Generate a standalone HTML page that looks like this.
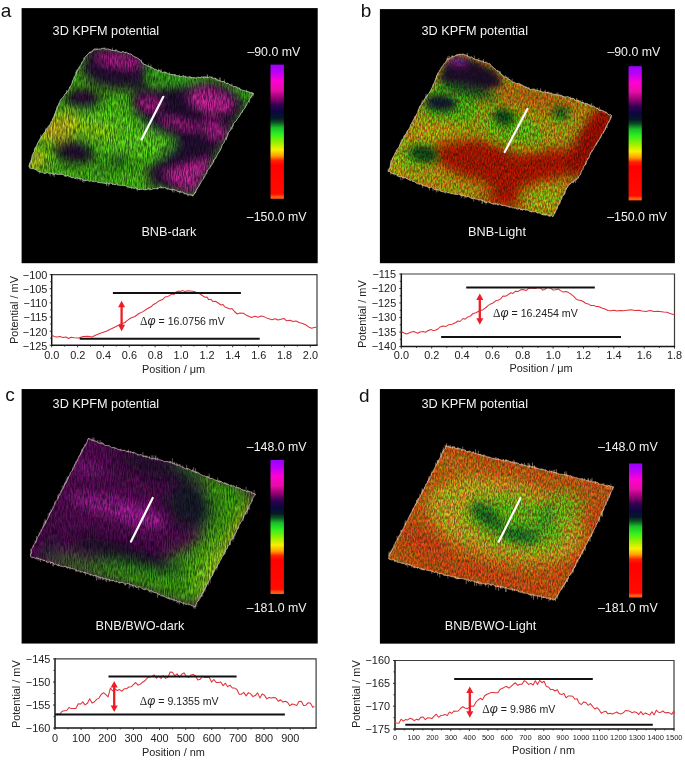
<!DOCTYPE html>
<html lang="en"><head><meta charset="utf-8"><title>KPFM potential figure</title>
<style>html,body{margin:0;padding:0;background:#fff}body{width:685px;height:760px;overflow:hidden}svg{display:block}text{font-family:"Liberation Sans", Arial, sans-serif}.lab{font-size:19px;fill:#111}.wt{font-size:12.7px;fill:#f2f2f2}.tk{font-size:10.9px;fill:#222}.tks{font-size:7.5px;fill:#222}.ax{font-size:10.9px;fill:#222}.dp{font-size:10.6px;fill:#222}.bl{stroke:#111;stroke-width:2.0;fill:none}.cv{stroke:#e0323a;stroke-width:1.05;fill:none;stroke-linejoin:round}.fr{fill:none;stroke:#3c3c3c;stroke-width:1.2}.fr2{fill:none;stroke:#161616;stroke-width:1.5}.tick{stroke:#222;stroke-width:0.9}.ar{stroke:#ee1c24;stroke-width:2.3;fill:none}.ah{fill:#ee1c24}</style></head><body>
<svg width="685" height="760" viewBox="0 0 685 760">
<defs>
<linearGradient id="cb" x1="0" y1="0" x2="0" y2="1">
<stop offset="0" stop-color="#9a00ff"/>
<stop offset="0.06" stop-color="#c000f4"/>
<stop offset="0.12" stop-color="#ff00d4"/>
<stop offset="0.19" stop-color="#e60ea6"/>
<stop offset="0.25" stop-color="#930072"/>
<stop offset="0.3" stop-color="#340052"/>
<stop offset="0.355" stop-color="#0a083c"/>
<stop offset="0.4" stop-color="#061828"/>
<stop offset="0.43" stop-color="#0a5020"/>
<stop offset="0.47" stop-color="#18c028"/>
<stop offset="0.52" stop-color="#30f020"/>
<stop offset="0.575" stop-color="#90f000"/>
<stop offset="0.635" stop-color="#f8f000"/>
<stop offset="0.68" stop-color="#ffa000"/>
<stop offset="0.715" stop-color="#ff2000"/>
<stop offset="0.75" stop-color="#ff0000"/>
<stop offset="0.965" stop-color="#ff0c00"/>
<stop offset="0.985" stop-color="#ff5a10"/>
<stop offset="1" stop-color="#ff5a10"/>
</linearGradient>
<clipPath id="cpa"><path d="M93.9 49.2 L95.7 49.1 L97.3 49.4 L98.6 49.1 L100.9 49.1 L102.1 48.3 L104.3 48.3 L105.8 49.3 L107.5 48.9 L109.2 49.3 L111 50.1 L112.6 50.2 L114.4 50.7 L116.4 50.1 L118.1 51.6 L119.6 52 L121.1 52.4 L123 51.4 L124.3 52.6 L126.3 52.2 L127.6 53.1 L129.8 54.1 L130.8 53.9 L132.8 55.6 L134.2 56.7 L136.4 57.4 L137.6 58.2 L139.3 59.3 L140.4 60.1 L141.5 61.9 L142.5 63.2 L144 64.4 L145.8 64.8 L146.9 65.6 L148.9 66.5 L149.8 66.4 L151.5 67.4 L153.3 68.3 L154.5 69.2 L155.9 69.2 L157.4 70.8 L158.9 70.1 L160.7 71 L162.5 72.7 L164.2 71.9 L165.8 72.4 L167.3 73.2 L168.5 73.8 L170.6 74.2 L172 74.6 L173.9 74.8 L175.2 74.9 L177.1 76 L178.3 75.6 L179.9 76.7 L182 76.6 L183.1 75.6 L184.7 76.5 L186.7 77.2 L187.9 77.2 L189.6 76.7 L191.1 77.6 L193.1 77.7 L194.8 77.8 L196.1 78.1 L197.9 77 L200 77.8 L201.3 76.8 L202.8 77.2 L204.9 77 L206.9 77.1 L208.6 77.3 L210.1 76.7 L212 77.8 L213.6 78.3 L214.8 78.1 L216.6 79.1 L218.1 80.2 L220.1 80.7 L221.7 81.5 L223 81.4 L224.5 81.7 L226 83.5 L227.9 83.1 L229 84.4 L230.8 85 L232.5 85.9 L233.7 86.5 L235.5 86.6 L237.2 87.8 L238.8 88.1 L240.3 89.1 L241.7 89.9 L243.1 90.4 L245.4 91.1 L246.8 91.2 L248.5 91.7 L250 92.5 L251.6 92.9 L253.6 93.6 L252.9 94.8 L251.4 96.3 L250.7 97.6 L249.7 99.3 L249.3 100.3 L248.3 102.1 L247.1 103.2 L246.6 105.6 L245.5 106.2 L244.9 108.4 L243.4 109.7 L242.6 111.1 L242.2 112.2 L241 113 L240.2 114.9 L239.4 116.3 L238.5 117.5 L237.2 118.8 L236.5 120.6 L235.2 121.8 L234.5 122.7 L233.6 123.5 L233 126.1 L231.7 127.6 L231.2 128.8 L230.6 129.4 L229.7 131.4 L228.5 132.2 L227.8 134.5 L227.5 135.2 L226.8 137.8 L225.9 138.2 L224.7 140.4 L224.3 141.9 L223.5 143.4 L222.5 144.1 L221.8 146 L221.5 147.4 L220.9 148.9 L220.1 150.4 L218.9 152.3 L218.1 153.7 L217.4 154.3 L216.6 156.4 L215.5 158.6 L215 159 L213.7 160 L213.4 162.3 L212.3 164.1 L211.5 165.3 L210.6 165.8 L210 167.7 L209.2 168.3 L207.7 170.1 L206.9 172.1 L206.7 173.7 L205.2 174.2 L205 176.2 L204.1 177.1 L203.3 179.2 L202.1 180.2 L201.2 181.8 L200.4 183.4 L199.9 184.3 L199.1 185.8 L197.8 187.7 L197.2 188.4 L196.2 190.1 L195.9 192.2 L194.9 193 L193.8 194.2 L193.1 195.8 L191.4 195 L189.4 194.9 L187.5 194.9 L186.2 193.8 L184.4 193.6 L182.8 192.2 L180.8 192.1 L179.3 191.7 L177.6 191.7 L176.2 190.5 L174.6 189.8 L173.1 189.9 L171.8 189.9 L170 189.3 L168.1 188.9 L166.4 188.7 L164.8 187.4 L163.2 187.9 L161.8 187.7 L160.1 186.9 L158.6 188.3 L156.8 188.7 L155.3 188.6 L153.3 188.7 L151.5 189.5 L149.7 189.2 L148.4 188.9 L146 189.7 L144.4 189.8 L142.7 189.1 L140.7 189.5 L138.5 189.5 L136.8 188.7 L135.5 188 L133.6 188.4 L131.5 187.4 L129.8 187.4 L128.6 187 L126.5 186.6 L125 185.3 L123.7 185.8 L122.1 185.2 L120.2 185.4 L118.2 185 L117.1 183.8 L115 184.7 L113.4 184.3 L112.4 184.2 L110.8 182.9 L109.1 183.8 L107.4 183.1 L105.9 183.4 L103.8 183.2 L102.7 183.1 L101 182.7 L98.9 182.6 L97.7 182.5 L96.1 181 L94.3 181.8 L93 181.4 L91 180.8 L89.2 181.3 L87.7 180.3 L86 180.7 L84.3 180.6 L82.7 180.1 L81.7 178.7 L80.1 178.8 L78.4 178.3 L76.4 178 L74.8 178.6 L73.6 177.6 L71.8 177.7 L69.9 176.7 L68.5 175.7 L67.1 175.6 L65.1 176.2 L63.4 174.8 L62.2 174.4 L60.1 174.3 L58.8 174.5 L56.9 174.2 L55.5 173.9 L54.2 174.5 L52.2 173.9 L50.8 173 L49.4 173.7 L47.3 172.6 L45.6 173.2 L44.3 173.5 L42.6 172.4 L41.3 172.3 L39.6 171.9 L37.6 171.1 L36.5 170.2 L35.2 169.3 L33.4 168.8 L31.6 168.6 L30.6 168.2 L28.9 166.8 L29.5 165.5 L29.6 163.4 L30.6 162.9 L31 160.5 L31.8 159.5 L32.1 157.3 L32.2 154.9 L33 154.3 L33.6 152.4 L34.3 151.5 L34.5 149.9 L35.1 147.5 L36.4 146.4 L37.3 144 L37.6 143.2 L38.9 141.1 L39.3 140 L40.2 138.8 L41.2 137 L42.3 135.3 L43 134.5 L43.8 133.2 L45.1 131.7 L45.9 129.4 L46.7 128.8 L47.7 128 L48.4 126.3 L49.7 125 L50.7 123.2 L51.4 121.9 L52.3 120.2 L52.6 118.7 L53.2 117.9 L54.3 115.7 L54.6 114 L55.1 113.4 L56 111.1 L56.3 110.1 L56.8 108.2 L57.6 106.6 L58.2 105.6 L59 103.9 L59.7 102.2 L59.9 101.3 L60.8 99.4 L61.9 98.3 L63.3 97.2 L64.3 95.3 L64.9 94.3 L66.4 92.7 L67.5 91 L68.7 90.3 L69.2 88.5 L69.7 87.2 L70.7 86.2 L71.6 84 L71.9 83.5 L72.6 81.1 L73.2 79.7 L73.9 78 L74.8 76.5 L75.5 74.8 L76.2 74.1 L76.6 71.6 L77.5 70.2 L78.6 68.6 L79.6 66.7 L80 65.9 L81.4 64.1 L81.6 63.2 L82.8 61.3 L83.9 59.5 L84.3 57.8 L85.3 56.9 L86.5 55.5 L88.2 54.1 L89.4 52.3 L91 52.2 L92.4 51.5Z"/></clipPath>
<clipPath id="cpb"><path d="M458.2 54.6 L459.7 54.3 L462.2 54.4 L463.7 54.5 L465.3 55 L467.4 55.2 L468.5 56.7 L470.3 57.2 L471.6 56.8 L472.8 58.2 L475 59.2 L476.6 59.5 L477.9 60.1 L479.9 60.8 L481.3 61 L483 61.1 L484.5 62.5 L486.5 62.2 L488.1 63.7 L489.9 63.7 L490.6 65.1 L491.8 66.1 L493.8 67.9 L494.9 68.9 L496 69.7 L497 70.9 L498.7 71.1 L500.4 72.8 L501 74.3 L502.4 75.1 L504.3 76.8 L505.4 77.3 L507 77.2 L508.1 79.2 L509.9 79.5 L511.1 80.8 L512.6 82.3 L514.3 81.9 L515.8 83.7 L516.7 83.6 L518.7 83.3 L520.3 84.3 L521.5 84.7 L523.1 85.6 L524.3 86.8 L526 87.1 L527.8 87.9 L528.7 88.2 L530.7 89.6 L532.1 89.2 L534 89 L535.4 89.9 L536.9 90.2 L538.8 90.8 L540.3 91.1 L541.6 91.4 L543 92.3 L544.8 91.8 L546.6 92.4 L547.8 92.5 L549.5 93 L551.7 93.4 L552.7 94 L554.5 94.3 L556.3 94.8 L557.7 94.7 L559.6 95 L561.2 95.3 L562.6 96.6 L564.5 96.8 L566.3 97 L567.5 96.5 L569.4 97.5 L571 98.5 L572 98.6 L573.9 98.6 L575.2 100.4 L577.3 99.9 L578.6 100.7 L580.3 101.6 L581.8 102.5 L583.4 102.5 L584.4 103.9 L585.7 103.5 L587.4 103.8 L589 104.7 L590.7 105.4 L591.7 106.4 L593.6 106 L595.2 107.5 L596.8 108.4 L598.3 108.6 L599.3 110.5 L601.5 110.2 L602.8 110.7 L604 111.6 L606.1 112.4 L607.4 113.2 L608.9 115.1 L610.8 114.7 L611.7 115.8 L610.9 116.4 L610.2 118.7 L609.8 120 L609.2 121.7 L608.2 122.4 L607.3 124.3 L606.7 125.8 L606 127.6 L605.5 128.2 L604.5 130.4 L603.9 132 L603.1 132.7 L601.8 134.1 L601.3 136 L600.6 137.4 L599.4 138.9 L598.8 140.4 L597.7 141.7 L597.2 142.6 L596.2 144.4 L595.3 145.2 L594.3 147.4 L593.8 148.4 L592.9 150 L592.1 151 L591.2 152.2 L590.1 153.6 L589.7 155.3 L589 157.9 L588 158.3 L587.4 159.6 L586.7 161.3 L586 162.5 L585.3 164.6 L584 166 L583.4 167.3 L582.9 169.5 L582 170.4 L581.1 171.9 L580.8 174 L579.6 175.6 L578.9 176.3 L578.4 178.1 L577.1 179 L575.5 179.6 L574.4 180.2 L573.4 182.3 L571.6 182.2 L570.6 183.8 L569.5 184.5 L567.9 186.3 L567.4 187.4 L566.3 188.6 L566 189.5 L564.9 191.9 L564.2 194 L563.9 194.9 L563.1 195.3 L562 197.1 L561.9 198.7 L560.8 200.1 L560.2 201.9 L559.6 204 L558.9 204.6 L557.8 205.6 L557.4 207.9 L556.4 209.6 L555.8 210.5 L555.4 211.6 L554.2 214.1 L553.4 215.8 L552.8 216.8 L551.4 215.6 L550.1 216 L548.1 215.2 L546.8 214.9 L544.8 214.9 L543.4 214.7 L541.7 214.6 L540.3 213.3 L538.2 212.7 L536.6 212.5 L535.1 211.6 L533.9 212 L532.2 211.3 L530.1 211.8 L528.6 210.6 L527.2 210 L525.5 210.1 L524.1 209.2 L522.6 210 L520.5 209.4 L519.3 208.6 L517.7 209.2 L516 208.1 L514 208 L512.6 207.8 L511.3 207.1 L509.2 207.1 L507.7 206.4 L506 206 L504.4 205.6 L503.2 205.6 L501.1 205.2 L499.6 204.1 L498.2 204.8 L496.5 204 L495 203.6 L493.6 204.2 L491.6 203.5 L490.3 202.9 L488.3 201.7 L486.8 202.5 L485.2 202.5 L483.3 200.9 L482 200.3 L480.5 200 L478.6 199.7 L477.3 199.2 L475.6 199 L473.7 198.3 L472.4 198.6 L470.7 198 L468.7 196.8 L467.1 196.6 L465.8 197.3 L464.4 195.6 L462.2 195.5 L461.1 195.5 L458.8 194.1 L457.3 194.6 L455.8 194.3 L454.1 194.2 L453 193.6 L451.3 193.6 L449.7 193 L447.7 192.7 L446.4 191.9 L444.6 192.3 L443.2 191.8 L441 191.4 L439.7 190.4 L438.3 189.9 L436.9 189.9 L435.1 189.8 L433.4 188.6 L431.6 187.2 L430.3 187.4 L428.2 187.8 L427.1 186.2 L425.3 186 L423.4 185.7 L422.1 185.2 L420.6 184.1 L418.7 183.8 L417.2 183.9 L416.1 182.8 L414.5 181.7 L413 181.2 L411.5 180 L410.2 180.6 L408.2 179.3 L407.1 178.9 L405.8 177.9 L403.8 177.7 L402.8 177.5 L401.2 176.6 L399.6 176.9 L397.6 175.9 L396 174.5 L394.4 173.8 L392.9 173.9 L391 172.9 L389.6 171.3 L388.3 171.3 L388.6 170.3 L389.5 167.8 L390.1 167.3 L390.3 165.2 L390.9 163 L391.3 161.3 L392.3 159.6 L392.6 158 L393.6 156.2 L394.5 154.8 L395.1 152.9 L396 151.9 L396.3 150.1 L397.3 149.6 L397.9 148.2 L399.2 146.7 L400.1 144.4 L400.9 143.3 L401.4 141.8 L402 140.8 L402.8 138.8 L404.1 138 L404.4 135.7 L405.7 134.1 L406.4 133.3 L407.3 130.7 L408.3 129.8 L409.1 128.7 L410.2 126.8 L410.5 124.7 L411.3 124.2 L412.6 121.8 L412.9 120.8 L413.9 119.1 L414.7 117.7 L415 117.3 L416.1 115.2 L416.6 114.3 L417.8 112.4 L418.1 110.2 L418.8 109 L419.6 106.8 L420.3 105.6 L421 104.9 L422.2 102.8 L423 102 L424 100.5 L425.2 98 L425.5 97.7 L426.6 96.9 L427.4 94.9 L428.8 93.7 L429.9 91.8 L430.6 90.5 L431.5 88.6 L431.9 87.8 L432.8 86.6 L433.4 84.1 L434.2 82.7 L434.8 81.2 L435.5 79 L436.2 78 L436.8 75.7 L437.3 74.7 L438 72.9 L439.2 71.4 L439.8 70.1 L440.8 69 L441.5 67 L442.9 66 L443.7 64.2 L444.7 62.9 L445.4 62.4 L446.7 60.6 L447.4 58.6 L448.8 59.1 L450.2 58.2 L452 56.3 L453.8 56.4 L454.8 56.1 L456.2 55.2Z"/></clipPath>
<clipPath id="cpc"><path d="M88.2 438.6 L89.8 438.7 L91.3 440 L93.2 440.1 L94.9 440.9 L96.1 441.4 L97.5 442.1 L99.1 443.3 L100.9 443 L102.4 443 L103.8 444.5 L105.4 445.5 L106.9 445.5 L108.3 445.6 L109.8 445.9 L111.6 447.8 L113.4 447.4 L115 448.1 L116.2 448.2 L117.9 449.3 L119.9 449.9 L121.8 450.2 L122.9 450.5 L124.9 450.2 L126.3 451.7 L128 451.5 L129.6 451.8 L131.6 452.2 L133.3 452.7 L134.4 452.6 L136.1 453.6 L137.6 454.8 L139.5 454.9 L141 454.6 L142.5 455.8 L143.8 456.3 L145.1 456.3 L146.7 456.5 L148.3 457.2 L150.2 458.1 L151.8 458.9 L153.4 458.3 L154.4 458.4 L156.3 459.1 L157.7 458.8 L159.7 459.9 L160.9 460.1 L162.3 460.5 L164.4 461.6 L165.6 461.5 L167.1 461.5 L169 462.1 L170.7 461.9 L171.8 462.8 L173.6 463.8 L174.9 463.6 L176.2 464.9 L178.3 465 L179.5 465.2 L181.3 466.6 L182.5 467.3 L183.8 467.8 L185.4 468.7 L187.1 468.8 L188.6 468.8 L190.4 469.9 L191.5 470.7 L193.3 470.9 L194.6 471.4 L196.3 472.4 L197.6 472.3 L199.1 473.2 L200.7 474.4 L201.8 475 L203.4 475.9 L204.7 475.8 L206.1 476.5 L208.1 476.9 L209.3 478.1 L211 478.5 L212.7 478.4 L214 479.7 L215.6 480.1 L217.3 480.7 L218.4 481.6 L219.9 481.2 L221.7 481.8 L223.2 483.1 L224.8 483 L226.4 484.2 L228 484 L229.6 485.3 L230.7 485.2 L232.2 485.9 L233.9 485.8 L235.7 487.3 L237.4 487.4 L238.4 487.8 L240.2 488.2 L241.6 489.5 L243.5 490.3 L245 490.2 L246.3 491.5 L247.5 491 L249.3 491.4 L250.8 492 L252.3 492.9 L254 493.7 L255.6 494 L254.7 495.6 L254.1 496.6 L253 497.5 L252.4 499.6 L251.6 501.6 L251.2 502.5 L250.6 503.9 L249.4 505.1 L248.8 506.5 L248 508.3 L247.6 509.8 L246.9 511.3 L246.1 511.8 L245.5 514.2 L244.2 514.8 L243.9 517.1 L243.3 517.7 L242.4 519.9 L241.7 521.6 L240.5 522.4 L240.2 523.7 L239.2 525.1 L238.7 526.2 L238.1 528.7 L237.1 528.8 L236.2 531.3 L235.5 533.1 L235.2 533.9 L233.9 536.1 L233.7 537.1 L232.9 538.8 L231.8 539.5 L231 540.2 L230.1 542.3 L229.8 544.7 L228.6 545.5 L227.9 546 L227.1 547.7 L226.3 549.7 L225.5 550.7 L224.6 552.9 L224.2 554 L223.5 555.2 L222.8 556.1 L221.7 557.5 L221.3 559.3 L220.2 560.3 L219.2 562.6 L218.4 563.8 L217.8 565 L216.8 566.5 L216.6 567.5 L215.4 568.6 L214.6 571 L214 572.1 L213.3 572.6 L212.7 574.9 L211.3 577.2 L210.7 577.9 L210.3 578.6 L209.3 580.4 L208.5 581.7 L207.9 583.4 L206.7 585 L205.8 586.9 L205.1 588.5 L204.3 589.8 L203.8 591.2 L203.2 592.4 L201.9 594 L201.5 595.4 L200.6 596.6 L199.6 597.9 L198.8 600.2 L198.4 600.9 L197 601.8 L196.4 603.7 L195.6 604.7 L195.3 606.8 L193.5 606.1 L192.1 605.8 L190.3 604.8 L188.7 604.7 L187.3 604.1 L185.5 604.4 L184.3 603 L182.6 603.3 L181.1 602.2 L179.7 601.9 L177.8 602 L176.4 600.7 L175.3 600.7 L173.2 599.6 L172 599.2 L170.8 599.2 L168.9 598.2 L167.7 598.4 L165.8 597.4 L164.7 596.8 L162.8 595.7 L161.3 596 L159.7 594.5 L158.6 594.7 L157 593.2 L155.2 592.7 L153.7 592.4 L152.7 591.4 L151.2 590.8 L149.5 591.2 L148.1 590 L146.5 589.2 L144.6 589.2 L142.6 589.2 L141.5 587.9 L140 586.8 L138.1 587.1 L136.2 587.5 L134.9 585.7 L133.5 585.9 L131.9 584.9 L130.1 584.8 L128.6 583.5 L126.9 583.7 L124.8 584.5 L123.8 583.1 L122.1 582.4 L120.4 582.7 L118.8 583 L117.2 581.3 L115.3 581.8 L113.6 580.6 L111.9 580.6 L110.3 580.6 L108.6 579.4 L107.5 579.7 L105.5 578.6 L104.1 579 L102.8 577.7 L100.7 578 L99.3 577.2 L97.7 576.9 L96.1 575.7 L94.7 575.5 L93.2 575.6 L91.6 574.6 L90.1 575 L88.6 573.9 L87.1 573.3 L85 572.6 L83.5 572.5 L82.5 571.8 L80.5 572.1 L79.3 570.8 L77.3 571.1 L76.1 570.3 L74.2 569 L73.1 568.9 L71.2 568.5 L69.9 567.9 L68.3 567.4 L66.6 567.3 L65 566.1 L63.9 566.8 L62.3 566.4 L60.5 566.1 L59 565.1 L57.3 565.4 L55.9 564.2 L54.1 564.2 L52.6 562.7 L50.7 562.4 L49.4 561.8 L47.9 562.5 L46 561.6 L45 560.5 L43.3 560.5 L41.6 559.5 L39.7 559.2 L38.1 558.3 L36.7 558 L35.3 558.6 L33.8 557.3 L31.9 557.7 L30.8 556.9 L30.4 554.5 L31.3 553.2 L31.1 551 L31.2 549.3 L32.1 548.4 L32.9 547 L33.8 544.5 L34.2 544.2 L35.3 543.2 L36.3 541.1 L36.7 539.5 L37.3 537.7 L38 536.6 L38.8 535.1 L39.5 534.3 L40.2 532.6 L41.1 531.1 L42 529.2 L42.3 528.8 L43 526.8 L44.4 524.8 L45.1 524 L45.7 521.9 L46 521.2 L47.2 519.9 L47.7 518.2 L48.7 516.7 L49.4 515 L49.6 513 L51.1 511.8 L51.7 510.5 L52.5 509.6 L52.8 507.9 L53.9 506.4 L54.1 505.3 L54.8 503.1 L55.8 501.6 L56.8 500.5 L57.2 499.6 L58.4 497.6 L58.5 496.6 L59.8 494.7 L60.1 493.4 L61.2 491.9 L61.6 489.9 L62.5 489.4 L63.6 487.5 L63.9 486.6 L64.5 483.8 L65.6 483.7 L66.5 481.4 L67.1 480.8 L67.7 478.1 L68.3 477.3 L69.1 475.9 L69.8 475 L70.4 472.6 L71.2 471.8 L72.2 471 L72.6 469.1 L73.8 467.6 L74.3 465.6 L74.8 464.9 L75.6 463.6 L76.7 461 L77.5 460.7 L77.9 458.9 L78.5 457.2 L79.6 455.5 L80.6 454.3 L80.8 452.5 L82.1 451.6 L82.3 449.9 L82.9 449 L83.8 447.3 L84.7 446.3 L85.8 444.5 L86.5 443.2 L87.2 441.4 L87.5 440.1Z"/></clipPath>
<clipPath id="cpd"><path d="M446.3 445.5 L448 446.7 L449.4 446.8 L451.1 447.5 L452.6 447 L454.5 447 L455.6 448.6 L457.5 448.3 L458.7 448.7 L460.4 448.8 L462.4 449.9 L464 449.7 L465.5 450.6 L466.6 451.6 L468.1 451.5 L469.9 450.9 L471.6 452.4 L473.4 452 L474.5 453.4 L476.5 453.4 L477.8 454.3 L480.1 454.6 L481.7 455.1 L483.2 455.9 L485 455.7 L486.5 456.5 L488.2 457.2 L490.2 457.4 L491.9 458.3 L493.2 458.2 L495.3 459.1 L496.9 459 L498.3 459.2 L499.7 459.6 L501.9 460.2 L503.5 459.9 L504.7 460.9 L506.7 460.5 L508.2 460.7 L510.1 461.7 L511.6 462.4 L512.8 462.2 L514.5 462.1 L516.4 463.2 L517.8 463 L519.4 464.3 L521.1 464.7 L522.6 464.8 L524.3 465.2 L525.9 465.2 L527 466.5 L528.7 466 L530.2 465.9 L531.7 467.1 L533.9 466.6 L535.1 467.7 L536.6 468.1 L538 468.5 L539.6 469.1 L541.1 469 L543.2 469.5 L544.8 470.2 L545.8 470.3 L547.3 471 L549 472.1 L550.5 471.4 L552.5 471.7 L553.8 472.8 L555 472.3 L556.7 472.8 L558.5 473.8 L560.2 474.3 L561.7 474.1 L563.3 474.7 L565 474.5 L566.3 475 L568 475.6 L569.6 475.9 L571.1 475.7 L572.4 477.2 L573.9 477.1 L575.4 477.7 L577.4 477.9 L578.6 478.6 L580.4 479 L582 478.7 L583.2 479.8 L585.3 479.7 L586.4 480.5 L588.2 480.7 L590.1 481.4 L591.1 480.9 L592.6 482 L594.3 481.8 L596.2 482.4 L597.7 482.4 L599 484 L600.9 484.4 L602.8 484 L603.9 485.1 L605.3 485.4 L607.4 486.1 L609.1 485.5 L610.6 486.7 L612.1 486.4 L613.4 487.3 L612.5 487.6 L612.2 489.9 L611.6 490.7 L610.8 492.5 L610 494.3 L609.8 495.4 L608.9 497.9 L608.2 498.3 L607.7 501 L606.6 501.8 L606 503.2 L605.2 505 L605.2 505.5 L604.1 507.2 L603.9 508.6 L603.2 510.6 L602 511.3 L601.8 513.2 L601.3 515 L600 516.5 L599.4 517.4 L599.1 519 L598.5 520.6 L597.9 521.7 L597.2 523 L596 525.4 L596 526.6 L595 527.6 L594.2 529.3 L593.3 530.6 L592.5 531.9 L592.3 533.5 L591.1 536 L590.3 536.1 L589.5 538.6 L588.7 539.6 L588 540.6 L587.4 542.4 L586.8 544.2 L585.7 545.1 L584.9 547.2 L584.9 548 L583.6 550 L582.8 551.2 L582.3 552.4 L581.3 553.9 L580.6 555 L580.2 556.9 L579.4 557.7 L578.3 559.5 L577.5 560.9 L576.7 562 L576.3 563 L575.7 565.4 L575.1 566.1 L574.1 567.9 L573.1 569.6 L572.6 571 L571.4 572.6 L570.7 574.1 L570 574.9 L568.5 576.5 L568.3 578.9 L567.3 579.5 L565.9 581.2 L565.5 582.6 L564.5 584.6 L563.8 585 L563 586.7 L562 587.6 L560.8 590.2 L560.2 590.5 L559.4 592.6 L558.3 593.8 L557.9 595.6 L556.7 596.6 L555.6 598.9 L555.2 599.6 L553.5 599.7 L551.7 599 L549.7 599.4 L548.4 598.1 L546.6 598.3 L545.1 597.3 L543.5 597.5 L541.8 597.3 L540.3 596.1 L538.2 596.2 L536.6 595.8 L535.6 595.8 L534 595.7 L532.2 594.7 L530.2 595 L528.5 594.1 L527.2 593.3 L525.5 593.1 L524.1 593.1 L522.4 591.9 L520.4 592.3 L518.7 591.5 L517.4 590.7 L515.5 590 L514.1 590.2 L512.4 589.5 L511.3 589.1 L509.3 589.1 L507.7 588.8 L506.1 587.6 L504.5 588.1 L503 587 L501.5 587.1 L499.8 587.1 L498 586.3 L496.5 586.9 L494.7 585.9 L493.2 584.5 L491.5 585.1 L489.8 584.4 L488.5 583.6 L487 584.1 L485.3 584.4 L483.8 583.7 L482.1 583.8 L480.1 583.1 L478.9 583.3 L477.3 582.4 L475.4 582.2 L474.1 581.5 L472.2 580.7 L470.3 581.2 L468.7 579.9 L467.3 580.1 L465.4 579.3 L464 579.2 L462.3 578.5 L461 578.4 L459.1 578.5 L457.6 578.4 L456.1 578.3 L454.7 577.2 L453 576.9 L451.6 576.7 L450 576.1 L448.4 575.4 L447 575.6 L445.5 575.3 L443.7 575.3 L442.6 573.9 L440.7 573.5 L438.8 573.6 L437.5 572.2 L435.7 572.2 L434.5 572.5 L433 571.7 L431.3 571 L429.9 570.8 L428.3 570.5 L426.7 570.2 L425.3 569 L423.2 569.8 L422.1 569.2 L420.1 568.9 L418.8 567.6 L416.9 567.6 L415.3 567.3 L414.2 567.3 L412.7 566.3 L410.9 565.2 L409.4 564.7 L407.3 564.1 L405.7 564.4 L404.7 563.9 L402.8 563.2 L401.4 563.2 L399.3 562.2 L398.2 562.6 L396.5 561.2 L394.6 560.3 L393.1 559.8 L391.3 559.9 L389.9 559 L388.6 558.4 L389 556.5 L388.9 555.6 L389.8 553.3 L390.4 552.3 L391.5 552.1 L392 550 L392.9 548.6 L393.2 547.3 L394.6 546.2 L394.8 544.2 L395.6 541.9 L396.6 540.8 L397.4 540 L397.8 538.7 L398.8 537.4 L399.1 535.6 L400.2 534.8 L401.2 532.7 L401.3 530.6 L402.6 530 L403.2 528.5 L404.1 527.3 L404.8 525.8 L405.1 524.2 L405.8 523.3 L406.9 521 L407.9 519.6 L408.3 518.3 L409.3 516.5 L410 515.5 L410.5 514.6 L411.7 512.4 L412.3 510.5 L412.8 509.6 L413.5 508.4 L414.4 507.1 L414.7 506 L415.6 504.1 L416.6 503.6 L417.1 501.8 L418 500.3 L418.5 498.4 L419.8 497.3 L420.3 495.7 L420.8 495 L422 492.7 L422.2 490.6 L423.2 490.1 L424 489.3 L424.8 486.9 L425.6 485.6 L425.9 484 L427.2 483.6 L427.4 481.1 L428.6 480.6 L429.4 478.5 L430.2 477.7 L430.9 476.1 L431.5 473.4 L432.4 472.5 L433 472 L433.8 470 L434.5 468.2 L434.8 467.6 L436.1 465.5 L436.5 464 L437.4 463.5 L438 461.3 L438.9 459.8 L439.4 459.1 L440.6 456.9 L441.2 455.8 L441.5 455 L442.3 452.6 L443 450.9 L444.4 449.8 L444.9 449.4 L445.7 447.2Z"/></clipPath>
<filter id="bl3_8" x="-30%" y="-30%" width="160%" height="160%"><feGaussianBlur stdDeviation="3.8"/></filter>
<filter id="bl4" x="-30%" y="-30%" width="160%" height="160%"><feGaussianBlur stdDeviation="4"/></filter>
<filter id="bl5_5" x="-30%" y="-30%" width="160%" height="160%"><feGaussianBlur stdDeviation="5.5"/></filter>
<filter id="bl6" x="-30%" y="-30%" width="160%" height="160%"><feGaussianBlur stdDeviation="6"/></filter>
<filter id="bl7" x="-30%" y="-30%" width="160%" height="160%"><feGaussianBlur stdDeviation="7"/></filter>
<filter id="texA" x="0" y="0" width="1" height="1" filterUnits="objectBoundingBox" color-interpolation-filters="sRGB"><feTurbulence type="fractalNoise" baseFrequency="0.95 0.17" numOctaves="2" seed="4" result="n"/><feColorMatrix in="n" type="matrix" values="2.4 0 0 0 -0.7  2.0 0.4 0 0 -0.7  2.0 0 0.4 0 -0.7  0 0 0 0 1" result="n2"/><feComposite in="SourceGraphic" in2="n2" operator="arithmetic" k1="0.8" k2="0.58" k3="0" k4="0"/></filter>
<filter id="texB" x="0" y="0" width="1" height="1" filterUnits="objectBoundingBox" color-interpolation-filters="sRGB"><feTurbulence type="fractalNoise" baseFrequency="0.7 0.3" numOctaves="2" seed="9" result="n"/><feColorMatrix in="n" type="matrix" values="2.2 0 0 0 -0.6  0 3.0 0 0 -1.0  0 0 2 0 -0.5  0 0 0 0 1" result="n2"/><feComposite in="SourceGraphic" in2="n2" operator="arithmetic" k1="0.7" k2="0.6" k3="0" k4="0"/></filter>
</defs>
<rect width="685" height="760" fill="#fff"/>
<rect x="21.6" y="8.1" width="296.1" height="255.1" fill="#000"/>
<text class="lab" x="0.8" y="16.8">a</text>
<rect x="379.9" y="9.1" width="295.0" height="254.1" fill="#000"/>
<text class="lab" x="360.7" y="17.3">b</text>
<rect x="21.6" y="389.05" width="296.1" height="254.5" fill="#000"/>
<text class="lab" x="5.3" y="401.4">c</text>
<rect x="379.9" y="389.05" width="295.0" height="254.6" fill="#000"/>
<text class="lab" x="359.0" y="401.9">d</text>
<g filter="url(#texA)"><g clip-path="url(#cpa)">
<rect x="25.8" y="45.4" width="230.8" height="153.4" fill="#3c9812"/>
<g filter="url(#bl5_5)">
<ellipse cx="120" cy="132" rx="60" ry="20" transform="rotate(12 120 132)" fill="#48ac16"/>
<ellipse cx="58" cy="128" rx="22" ry="13" transform="rotate(-20 58 128)" fill="#9ca012"/>
<ellipse cx="50" cy="128" rx="9" ry="7" transform="rotate(-20 50 128)" fill="#a88c14"/>
<ellipse cx="36" cy="160" rx="12" ry="9" transform="rotate(-40 36 160)" fill="#a4a414"/>
<ellipse cx="95" cy="130" rx="22" ry="7" transform="rotate(10 95 130)" fill="#80a010" opacity="0.7"/>
<path d="M88 44 L142 52 L154 68 L146 88 L114 90 L94 84 L80 72Z" fill="#1e0829"/>
<ellipse cx="83" cy="100" rx="19" ry="11" transform="rotate(5 83 100)" fill="#140620"/>
<ellipse cx="75" cy="151" rx="22" ry="13" transform="rotate(8 75 151)" fill="#140822"/>
<path d="M132 92 L165 84 L190 80 L215 82 L243 92 L250 98 L236 124 L218 154 L194 196 L150 186 L146 170 L160 156 L176 142 L150 130 L132 114Z" fill="#1c0829"/>
<ellipse cx="120" cy="160" rx="12" ry="7" transform="rotate(0 120 160)" fill="#103818" opacity="0.85"/>
<ellipse cx="104" cy="172" rx="10" ry="5" transform="rotate(0 104 172)" fill="#184818" opacity="0.7"/>
</g>
<g filter="url(#bl4)">
<ellipse cx="118" cy="61" rx="24" ry="8" transform="rotate(10 118 61)" fill="#8c1670"/>
<ellipse cx="104" cy="59" rx="10" ry="6" transform="rotate(0 104 59)" fill="#801668"/>
<ellipse cx="211" cy="101" rx="24" ry="13" transform="rotate(12 211 101)" fill="#981a78"/>
<ellipse cx="150" cy="104" rx="13" ry="8" transform="rotate(10 150 104)" fill="#8c1870"/>
<ellipse cx="180" cy="124" rx="22" ry="6" transform="rotate(14 180 124)" fill="#86166c"/>
<ellipse cx="214" cy="130" rx="14" ry="10" transform="rotate(30 214 130)" fill="#88166e"/>
<path d="M160 171 L186 163 L212 156 L204 174 L193 193 L176 186Z" fill="#981a78"/>
<ellipse cx="84" cy="97" rx="6" ry="3" transform="rotate(0 84 97)" fill="#5c1060" opacity="0.8"/>
<ellipse cx="75" cy="149" rx="5" ry="3" transform="rotate(0 75 149)" fill="#500c58" opacity="0.8"/>
<path d="M146 64 L172 72 L193 76 L204 76 L200 82 L186 86 L166 88 L146 84Z" fill="#2c8814" opacity="0.95"/>
<path d="M232 84 L256 92 L247 104 L238 96Z" fill="#2c8814" opacity="0.9"/>
</g>
</g></g>
<path d="M93.9 49.2 L95.7 49.1 L97.3 49.4 L98.6 49.1 L100.9 49.1 L102.1 48.3 L104.3 48.3 L105.8 49.3 L107.5 48.9 L109.2 49.3 L111 50.1 L112.6 50.2 L114.4 50.7 L116.4 50.1 L118.1 51.6 L119.6 52 L121.1 52.4 L123 51.4 L124.3 52.6 L126.3 52.2 L127.6 53.1 L129.8 54.1 L130.8 53.9 L132.8 55.6 L134.2 56.7 L136.4 57.4 L137.6 58.2 L139.3 59.3 L140.4 60.1 L141.5 61.9 L142.5 63.2 L144 64.4 L145.8 64.8 L146.9 65.6 L148.9 66.5 L149.8 66.4 L151.5 67.4 L153.3 68.3 L154.5 69.2 L155.9 69.2 L157.4 70.8 L158.9 70.1 L160.7 71 L162.5 72.7 L164.2 71.9 L165.8 72.4 L167.3 73.2 L168.5 73.8 L170.6 74.2 L172 74.6 L173.9 74.8 L175.2 74.9 L177.1 76 L178.3 75.6 L179.9 76.7 L182 76.6 L183.1 75.6 L184.7 76.5 L186.7 77.2 L187.9 77.2 L189.6 76.7 L191.1 77.6 L193.1 77.7 L194.8 77.8 L196.1 78.1 L197.9 77 L200 77.8 L201.3 76.8 L202.8 77.2 L204.9 77 L206.9 77.1 L208.6 77.3 L210.1 76.7 L212 77.8 L213.6 78.3 L214.8 78.1 L216.6 79.1 L218.1 80.2 L220.1 80.7 L221.7 81.5 L223 81.4 L224.5 81.7 L226 83.5 L227.9 83.1 L229 84.4 L230.8 85 L232.5 85.9 L233.7 86.5 L235.5 86.6 L237.2 87.8 L238.8 88.1 L240.3 89.1 L241.7 89.9 L243.1 90.4 L245.4 91.1 L246.8 91.2 L248.5 91.7 L250 92.5 L251.6 92.9 L253.6 93.6 L252.9 94.8 L251.4 96.3 L250.7 97.6 L249.7 99.3 L249.3 100.3 L248.3 102.1 L247.1 103.2 L246.6 105.6 L245.5 106.2 L244.9 108.4 L243.4 109.7 L242.6 111.1 L242.2 112.2 L241 113 L240.2 114.9 L239.4 116.3 L238.5 117.5 L237.2 118.8 L236.5 120.6 L235.2 121.8 L234.5 122.7 L233.6 123.5 L233 126.1 L231.7 127.6 L231.2 128.8 L230.6 129.4 L229.7 131.4 L228.5 132.2 L227.8 134.5 L227.5 135.2 L226.8 137.8 L225.9 138.2 L224.7 140.4 L224.3 141.9 L223.5 143.4 L222.5 144.1 L221.8 146 L221.5 147.4 L220.9 148.9 L220.1 150.4 L218.9 152.3 L218.1 153.7 L217.4 154.3 L216.6 156.4 L215.5 158.6 L215 159 L213.7 160 L213.4 162.3 L212.3 164.1 L211.5 165.3 L210.6 165.8 L210 167.7 L209.2 168.3 L207.7 170.1 L206.9 172.1 L206.7 173.7 L205.2 174.2 L205 176.2 L204.1 177.1 L203.3 179.2 L202.1 180.2 L201.2 181.8 L200.4 183.4 L199.9 184.3 L199.1 185.8 L197.8 187.7 L197.2 188.4 L196.2 190.1 L195.9 192.2 L194.9 193 L193.8 194.2 L193.1 195.8 L191.4 195 L189.4 194.9 L187.5 194.9 L186.2 193.8 L184.4 193.6 L182.8 192.2 L180.8 192.1 L179.3 191.7 L177.6 191.7 L176.2 190.5 L174.6 189.8 L173.1 189.9 L171.8 189.9 L170 189.3 L168.1 188.9 L166.4 188.7 L164.8 187.4 L163.2 187.9 L161.8 187.7 L160.1 186.9 L158.6 188.3 L156.8 188.7 L155.3 188.6 L153.3 188.7 L151.5 189.5 L149.7 189.2 L148.4 188.9 L146 189.7 L144.4 189.8 L142.7 189.1 L140.7 189.5 L138.5 189.5 L136.8 188.7 L135.5 188 L133.6 188.4 L131.5 187.4 L129.8 187.4 L128.6 187 L126.5 186.6 L125 185.3 L123.7 185.8 L122.1 185.2 L120.2 185.4 L118.2 185 L117.1 183.8 L115 184.7 L113.4 184.3 L112.4 184.2 L110.8 182.9 L109.1 183.8 L107.4 183.1 L105.9 183.4 L103.8 183.2 L102.7 183.1 L101 182.7 L98.9 182.6 L97.7 182.5 L96.1 181 L94.3 181.8 L93 181.4 L91 180.8 L89.2 181.3 L87.7 180.3 L86 180.7 L84.3 180.6 L82.7 180.1 L81.7 178.7 L80.1 178.8 L78.4 178.3 L76.4 178 L74.8 178.6 L73.6 177.6 L71.8 177.7 L69.9 176.7 L68.5 175.7 L67.1 175.6 L65.1 176.2 L63.4 174.8 L62.2 174.4 L60.1 174.3 L58.8 174.5 L56.9 174.2 L55.5 173.9 L54.2 174.5 L52.2 173.9 L50.8 173 L49.4 173.7 L47.3 172.6 L45.6 173.2 L44.3 173.5 L42.6 172.4 L41.3 172.3 L39.6 171.9 L37.6 171.1 L36.5 170.2 L35.2 169.3 L33.4 168.8 L31.6 168.6 L30.6 168.2 L28.9 166.8 L29.5 165.5 L29.6 163.4 L30.6 162.9 L31 160.5 L31.8 159.5 L32.1 157.3 L32.2 154.9 L33 154.3 L33.6 152.4 L34.3 151.5 L34.5 149.9 L35.1 147.5 L36.4 146.4 L37.3 144 L37.6 143.2 L38.9 141.1 L39.3 140 L40.2 138.8 L41.2 137 L42.3 135.3 L43 134.5 L43.8 133.2 L45.1 131.7 L45.9 129.4 L46.7 128.8 L47.7 128 L48.4 126.3 L49.7 125 L50.7 123.2 L51.4 121.9 L52.3 120.2 L52.6 118.7 L53.2 117.9 L54.3 115.7 L54.6 114 L55.1 113.4 L56 111.1 L56.3 110.1 L56.8 108.2 L57.6 106.6 L58.2 105.6 L59 103.9 L59.7 102.2 L59.9 101.3 L60.8 99.4 L61.9 98.3 L63.3 97.2 L64.3 95.3 L64.9 94.3 L66.4 92.7 L67.5 91 L68.7 90.3 L69.2 88.5 L69.7 87.2 L70.7 86.2 L71.6 84 L71.9 83.5 L72.6 81.1 L73.2 79.7 L73.9 78 L74.8 76.5 L75.5 74.8 L76.2 74.1 L76.6 71.6 L77.5 70.2 L78.6 68.6 L79.6 66.7 L80 65.9 L81.4 64.1 L81.6 63.2 L82.8 61.3 L83.9 59.5 L84.3 57.8 L85.3 56.9 L86.5 55.5 L88.2 54.1 L89.4 52.3 L91 52.2 L92.4 51.5Z" fill="none" stroke="#d0d0d0" stroke-width="0.8" opacity="0.9"/>
<path d="M95 50.4v-1.9M97.1 50.1v-2.3M105 49.6v-2.3M112.4 51v-3.3M115.8 51.7v-2.4M141.5 63v-3.4M143.1 64.4v-2.2M148.6 67.2v-3.7M151 68.3v-3.8M158.6 71.8v-3.3M161.2 72.6v-3.7M165.3 73.8v-1.9M169.3 74.9v-3.1M174.5 76.1v-1.9M175.1 76.2v-2.1M179.5 76.9v-2.4M185.9 77.9v-2.4M190.1 78.5v-2.5M191.6 78.8v-1.9M194.2 78.9v-2M203.3 78.3v-2M205.1 78.1v-1.8M207.2 78v-3.9M207.6 78v-2.9M212 78.5v-2.4M215.4 79.7v-2M219.3 81.1v-3.7M220.4 81.5v-3.9M224.4 82.9v-3.5M231.9 86.2v-2.8M237 88.5v-2.3M239.3 89.5v-2.1M246.4 92.2v-2.6M251.6 94v-2.1M252.6 94.4v-2.1M253.2 93.3v3.1M251.8 95.6v2.5M249.4 99.3v3.7M242.5 110.2v2.3M232.4 125.3v3.7M231.2 127.2v2.9M228 133.3v2M226.4 136.6v3.8M226.2 137.1v2.9M214 159.7v2M210.7 165.1v2M204 176.2v1.9M197.4 187.5v2M195.5 190.6v2.1M194.7 191.9v2.7M192.8 194.7v2M191.2 194.3v1.8M188 193.3v2.9M184.1 192.1v2.3M180.5 191v1.8M179.5 190.7v2.9M174.2 189.2v3.4M172.6 188.7v3.6M171.9 188.5v1.9M167.2 187.5v2.2M161.7 186.4v2.2M160.4 186.6v1.8M157.4 187.2v2.4M149.9 188.5v2M139.7 188.3v1.8M137.5 187.9v3.2M136.4 187.7v2.2M131.5 186.8v2.4M128 185.7v2.9M117.3 183.6v2.4M112.6 183v1.9M109.6 182.7v2.3M108.4 182.5v3.8M106.7 182.3v3.8M106.6 182.3v3M83.9 179.1v3.6M82.4 178.9v3.3M80.4 178.3v2.3M80 178.3v2.1M77.1 177.5v2.8M72 176.2v2.1M68.7 175.4v2.2M66.9 174.9v2.1M65 174.5v2.2M54.3 172.9v4M53.1 172.8v3.2M50.7 172.6v1.8M50.1 172.5v3.8M45.1 172v1.8M39.3 170.8v2.8M30 166.4v3.1M29.2 166.7v-2.1M29.3 166.4v-1.8M29.9 164.5v-2.8M31.2 160.9v-2.1M31.6 159.7v-3M33.3 154.5v-2.1M34.4 151.4v-2M40.8 138.1v-3.5M45.8 131.1v-3.4M50.9 123.9v-2.5M54.4 116v-2.2M55.6 113.1v-2.3M57.1 109.3v-3.1M57.9 107.2v-2.2M58.9 104.7v-2.2M66.5 93.9v-3.8M69.8 88.5v-2.1M72.4 82.6v-1.9M74.2 78.4v-2.5M75.4 75.7v-3.8M76.3 73.6v-3.7M77.3 71.7v-2.9M79.1 68.6v-1.9M81.8 63.9v-1.9M84.1 59.9v-2.6M90.2 53.5v-2.2M92.2 51.8v-2" stroke="#b8c8a8" stroke-width="0.6" fill="none" opacity="0.8"/>
<line x1="163.3" y1="96.8" x2="141.6" y2="139.4" stroke="#fff" stroke-width="2.2" stroke-linecap="round"/>
<g filter="url(#texB)"><g clip-path="url(#cpb)">
<rect x="385" y="51.3" width="230" height="168.5" fill="#a08a10"/>
<g filter="url(#bl6)">
<ellipse cx="450" cy="104" rx="30" ry="27" transform="rotate(-30 450 104)" fill="#48a010"/>
<ellipse cx="512" cy="128" rx="32" ry="14" transform="rotate(15 512 128)" fill="#58a810"/>
<ellipse cx="562" cy="116" rx="14" ry="9" transform="rotate(15 562 116)" fill="#6ca810"/>
<ellipse cx="415" cy="156" rx="24" ry="12" transform="rotate(-15 415 156)" fill="#62a410"/>
<ellipse cx="440" cy="132" rx="26" ry="10" transform="rotate(0 440 132)" fill="#b09410"/>
<ellipse cx="396" cy="166" rx="8" ry="8" transform="rotate(0 396 166)" fill="#a8a010"/>
<ellipse cx="538" cy="100" rx="44" ry="11" transform="rotate(14 538 100)" fill="#a86010"/>
<ellipse cx="480" cy="160" rx="50" ry="20" transform="rotate(12 480 160)" fill="#9c1606"/>
<ellipse cx="540" cy="166" rx="50" ry="16" transform="rotate(-8 540 166)" fill="#9c1406"/>
<ellipse cx="592" cy="140" rx="16" ry="42" transform="rotate(28 592 140)" fill="#901006"/>
<ellipse cx="603" cy="118" rx="12" ry="8" transform="rotate(20 603 118)" fill="#901006"/>
<ellipse cx="498" cy="186" rx="42" ry="20" transform="rotate(15 498 186)" fill="#9c1806"/>
<ellipse cx="470" cy="188" rx="20" ry="6" transform="rotate(15 470 188)" fill="#a09010"/>
<ellipse cx="541" cy="199" rx="20" ry="9" transform="rotate(10 541 199)" fill="#94a410"/>
<ellipse cx="572" cy="200" rx="6" ry="14" transform="rotate(25 572 200)" fill="#901806"/>
</g>
<g filter="url(#bl3_8)">
<path d="M445 62 L458 55 L476 60 L498 72 L504 86 L480 92 L456 88 L438 80Z" fill="#1c0826"/>
<ellipse cx="458" cy="62" rx="10" ry="5" transform="rotate(10 458 62)" fill="#601472"/>
<ellipse cx="441" cy="103" rx="16" ry="8" transform="rotate(5 441 103)" fill="#0c122c"/>
<ellipse cx="424" cy="154" rx="15" ry="8" transform="rotate(10 424 154)" fill="#0c3c16"/>
<ellipse cx="504" cy="117" rx="11" ry="8" transform="rotate(20 504 117)" fill="#0c3c18"/>
<ellipse cx="561" cy="113" rx="9" ry="7" transform="rotate(10 561 113)" fill="#1c5c18"/>
<ellipse cx="470" cy="92" rx="30" ry="6" transform="rotate(14 470 92)" fill="#1c5018" opacity="0.8"/>
</g>
</g></g>
<path d="M458.2 54.6 L459.7 54.3 L462.2 54.4 L463.7 54.5 L465.3 55 L467.4 55.2 L468.5 56.7 L470.3 57.2 L471.6 56.8 L472.8 58.2 L475 59.2 L476.6 59.5 L477.9 60.1 L479.9 60.8 L481.3 61 L483 61.1 L484.5 62.5 L486.5 62.2 L488.1 63.7 L489.9 63.7 L490.6 65.1 L491.8 66.1 L493.8 67.9 L494.9 68.9 L496 69.7 L497 70.9 L498.7 71.1 L500.4 72.8 L501 74.3 L502.4 75.1 L504.3 76.8 L505.4 77.3 L507 77.2 L508.1 79.2 L509.9 79.5 L511.1 80.8 L512.6 82.3 L514.3 81.9 L515.8 83.7 L516.7 83.6 L518.7 83.3 L520.3 84.3 L521.5 84.7 L523.1 85.6 L524.3 86.8 L526 87.1 L527.8 87.9 L528.7 88.2 L530.7 89.6 L532.1 89.2 L534 89 L535.4 89.9 L536.9 90.2 L538.8 90.8 L540.3 91.1 L541.6 91.4 L543 92.3 L544.8 91.8 L546.6 92.4 L547.8 92.5 L549.5 93 L551.7 93.4 L552.7 94 L554.5 94.3 L556.3 94.8 L557.7 94.7 L559.6 95 L561.2 95.3 L562.6 96.6 L564.5 96.8 L566.3 97 L567.5 96.5 L569.4 97.5 L571 98.5 L572 98.6 L573.9 98.6 L575.2 100.4 L577.3 99.9 L578.6 100.7 L580.3 101.6 L581.8 102.5 L583.4 102.5 L584.4 103.9 L585.7 103.5 L587.4 103.8 L589 104.7 L590.7 105.4 L591.7 106.4 L593.6 106 L595.2 107.5 L596.8 108.4 L598.3 108.6 L599.3 110.5 L601.5 110.2 L602.8 110.7 L604 111.6 L606.1 112.4 L607.4 113.2 L608.9 115.1 L610.8 114.7 L611.7 115.8 L610.9 116.4 L610.2 118.7 L609.8 120 L609.2 121.7 L608.2 122.4 L607.3 124.3 L606.7 125.8 L606 127.6 L605.5 128.2 L604.5 130.4 L603.9 132 L603.1 132.7 L601.8 134.1 L601.3 136 L600.6 137.4 L599.4 138.9 L598.8 140.4 L597.7 141.7 L597.2 142.6 L596.2 144.4 L595.3 145.2 L594.3 147.4 L593.8 148.4 L592.9 150 L592.1 151 L591.2 152.2 L590.1 153.6 L589.7 155.3 L589 157.9 L588 158.3 L587.4 159.6 L586.7 161.3 L586 162.5 L585.3 164.6 L584 166 L583.4 167.3 L582.9 169.5 L582 170.4 L581.1 171.9 L580.8 174 L579.6 175.6 L578.9 176.3 L578.4 178.1 L577.1 179 L575.5 179.6 L574.4 180.2 L573.4 182.3 L571.6 182.2 L570.6 183.8 L569.5 184.5 L567.9 186.3 L567.4 187.4 L566.3 188.6 L566 189.5 L564.9 191.9 L564.2 194 L563.9 194.9 L563.1 195.3 L562 197.1 L561.9 198.7 L560.8 200.1 L560.2 201.9 L559.6 204 L558.9 204.6 L557.8 205.6 L557.4 207.9 L556.4 209.6 L555.8 210.5 L555.4 211.6 L554.2 214.1 L553.4 215.8 L552.8 216.8 L551.4 215.6 L550.1 216 L548.1 215.2 L546.8 214.9 L544.8 214.9 L543.4 214.7 L541.7 214.6 L540.3 213.3 L538.2 212.7 L536.6 212.5 L535.1 211.6 L533.9 212 L532.2 211.3 L530.1 211.8 L528.6 210.6 L527.2 210 L525.5 210.1 L524.1 209.2 L522.6 210 L520.5 209.4 L519.3 208.6 L517.7 209.2 L516 208.1 L514 208 L512.6 207.8 L511.3 207.1 L509.2 207.1 L507.7 206.4 L506 206 L504.4 205.6 L503.2 205.6 L501.1 205.2 L499.6 204.1 L498.2 204.8 L496.5 204 L495 203.6 L493.6 204.2 L491.6 203.5 L490.3 202.9 L488.3 201.7 L486.8 202.5 L485.2 202.5 L483.3 200.9 L482 200.3 L480.5 200 L478.6 199.7 L477.3 199.2 L475.6 199 L473.7 198.3 L472.4 198.6 L470.7 198 L468.7 196.8 L467.1 196.6 L465.8 197.3 L464.4 195.6 L462.2 195.5 L461.1 195.5 L458.8 194.1 L457.3 194.6 L455.8 194.3 L454.1 194.2 L453 193.6 L451.3 193.6 L449.7 193 L447.7 192.7 L446.4 191.9 L444.6 192.3 L443.2 191.8 L441 191.4 L439.7 190.4 L438.3 189.9 L436.9 189.9 L435.1 189.8 L433.4 188.6 L431.6 187.2 L430.3 187.4 L428.2 187.8 L427.1 186.2 L425.3 186 L423.4 185.7 L422.1 185.2 L420.6 184.1 L418.7 183.8 L417.2 183.9 L416.1 182.8 L414.5 181.7 L413 181.2 L411.5 180 L410.2 180.6 L408.2 179.3 L407.1 178.9 L405.8 177.9 L403.8 177.7 L402.8 177.5 L401.2 176.6 L399.6 176.9 L397.6 175.9 L396 174.5 L394.4 173.8 L392.9 173.9 L391 172.9 L389.6 171.3 L388.3 171.3 L388.6 170.3 L389.5 167.8 L390.1 167.3 L390.3 165.2 L390.9 163 L391.3 161.3 L392.3 159.6 L392.6 158 L393.6 156.2 L394.5 154.8 L395.1 152.9 L396 151.9 L396.3 150.1 L397.3 149.6 L397.9 148.2 L399.2 146.7 L400.1 144.4 L400.9 143.3 L401.4 141.8 L402 140.8 L402.8 138.8 L404.1 138 L404.4 135.7 L405.7 134.1 L406.4 133.3 L407.3 130.7 L408.3 129.8 L409.1 128.7 L410.2 126.8 L410.5 124.7 L411.3 124.2 L412.6 121.8 L412.9 120.8 L413.9 119.1 L414.7 117.7 L415 117.3 L416.1 115.2 L416.6 114.3 L417.8 112.4 L418.1 110.2 L418.8 109 L419.6 106.8 L420.3 105.6 L421 104.9 L422.2 102.8 L423 102 L424 100.5 L425.2 98 L425.5 97.7 L426.6 96.9 L427.4 94.9 L428.8 93.7 L429.9 91.8 L430.6 90.5 L431.5 88.6 L431.9 87.8 L432.8 86.6 L433.4 84.1 L434.2 82.7 L434.8 81.2 L435.5 79 L436.2 78 L436.8 75.7 L437.3 74.7 L438 72.9 L439.2 71.4 L439.8 70.1 L440.8 69 L441.5 67 L442.9 66 L443.7 64.2 L444.7 62.9 L445.4 62.4 L446.7 60.6 L447.4 58.6 L448.8 59.1 L450.2 58.2 L452 56.3 L453.8 56.4 L454.8 56.1 L456.2 55.2Z" fill="none" stroke="#e0c8b8" stroke-width="0.8" opacity="0.9"/>
<path d="M459.1 55.6v-1.8M462.9 55.4v-2.3M467.3 56.8v-3.9M474.3 59.8v-4.3M478.1 61.1v-2.3M478.8 61.4v-3.5M483.3 62.9v-1.9M483.6 63v-3.8M497.5 71.9v-1.8M499.2 73.3v-1.8M500.1 74.1v-2.9M505.3 77.8v-2.8M508.3 80.1v-3.2M512.2 82.5v-3.8M520.2 85.7v-2M523.8 87.2v-2.1M525.9 88v-1.9M528.7 89.2v-2.2M537.2 91.5v-3.3M540.6 92.2v-4M545.3 93.2v-3.5M547.4 93.6v-2.1M548.7 93.8v-2.4M551.1 94.3v-1.9M556.2 95.5v-2.6M557.8 95.9v-3.7M561.3 96.8v-1.9M562.5 97.1v-1.8M570.4 99.1v-2.5M572 99.5v-1.9M576.6 101v-3.2M578.4 101.8v-1.9M580 102.4v-2.4M582.2 103.3v-3.2M583.7 103.9v-1.9M585.4 104.5v-1.9M587.1 105.2v-1.8M591 106.8v-2.8M591.7 107.1v-4.2M597.1 109.4v-2.3M599.4 110.6v-3.8M600.4 111v-1.8M603.4 112.6v-1.9M605.8 113.7v-2.3M611.5 115.7v2.4M610.7 117.3v2.9M608.7 121v2.4M607.2 123.9v4.3M605.9 126.3v2M605.5 127.2v3.1M603.5 131v2.7M600.6 135.7v2.6M599.7 137.2v1.8M598 140v2.1M596.9 141.9v1.8M596.5 142.6v2M595.9 143.5v2.6M591.9 150.1v1.9M590.7 152.1v2.9M587.8 158v2M586.2 161.3v3.2M585.6 162.6v2.7M576.5 178.5v1.9M575.4 179.3v3.8M575 179.6v2.2M573.4 180.8v2.4M566.6 187.9v2M565.2 190.7v3.1M564.6 191.8v2.9M563.7 193.7v1.9M556.8 207.9v2.4M555.7 210.3v1.8M554.9 211.9v2.1M550 215.1v1.9M548.9 214.8v2.2M545.7 214v1.8M543.9 213.6v1.9M537.8 212v2M531.8 210.6v2.4M522.6 208.7v1.8M520.5 208.3v2M516.4 207.5v1.8M509.4 206.1v1.8M497.8 203.6v2M495.6 203.2v1.9M493.8 202.8v2M489 201.7v1.8M486 200.9v3.8M484.4 200.5v2.1M482.4 200v3.5M482 199.8v4.1M478.9 199v2.5M473.7 197.6v4M472.5 197.3v1.9M464.3 195.1v3.3M462.4 194.7v2.1M461.3 194.4v3.8M451.8 192.4v2M445.8 191.2v2.7M438.1 189.1v2.9M436.4 188.5v4M433 187.5v3.6M429.5 186.4v3.9M425.7 185.2v1.8M422.6 184.2v3.9M419.3 183v2.1M412.4 180.2v1.8M403.8 176.9v1.9M402.8 176.5v3M400.9 175.8v4.4M397.6 174.4v1.9M394.1 173v2.7M390.6 171.6v3.2M388.1 172.2v-3.4M390.7 164.6v-4.2M391.8 161.5v-2.2M392.3 159.9v-1.9M399.5 146.4v-1.8M400.3 144.9v-2.7M400.6 144.4v-1.8M401.1 143.5v-3.4M401.9 142v-3.2M402.4 141v-1.9M403.6 138.9v-3.1M404.4 137.6v-2M412 124.1v-1.9M414.4 119.4v-3.1M415 118.2v-1.9M420.1 107.9v-1.8M422 104v-1.9M422.2 103.6v-3.8M423.7 101.5v-1.8M425.7 98.5v-2.4M426 98.1v-4.2M427.2 96.3v-1.8M432.7 86.7v-1.9M436 79.3v-1.8M436.5 78.1v-3.1M437.7 75.5v-1.9M447.2 60.3v-2.7M448.1 59.7v-3.8M449.4 59.2v-3.4M452.1 58.1v-3M457 56.1v-1.8" stroke="#e0c0a0" stroke-width="0.6" fill="none" opacity="0.8"/>
<line x1="527.5" y1="108.8" x2="504.7" y2="152" stroke="#fff" stroke-width="2.2" stroke-linecap="round"/>
<g filter="url(#texA)"><g clip-path="url(#cpc)">
<rect x="27.5" y="435.7" width="231" height="174.3" fill="#440a44"/>
<g filter="url(#bl7)">
<path d="M176 464 L255 494 L195 607 L104 578 L62 566 L100 562 L150 568 L196 544 L216 512 L204 482Z" fill="#348a10"/>
<path d="M40 558 L70 556 L120 572 L195 607 L104 579Z" fill="#2a7410"/>
<ellipse cx="190" cy="506" rx="25" ry="21" transform="rotate(25 190 506)" fill="#121a20" opacity="0.9"/>
<ellipse cx="158" cy="468" rx="42" ry="10" transform="rotate(18 158 468)" fill="#1c0826"/>
<ellipse cx="128" cy="556" rx="58" ry="10" transform="rotate(16 128 556)" fill="#180820"/>
<ellipse cx="50" cy="545" rx="16" ry="8" transform="rotate(-50 50 545)" fill="#2a0830"/>
<ellipse cx="216" cy="572" rx="16" ry="34" transform="rotate(27 216 572)" fill="#6cac16" opacity="0.9"/>
<ellipse cx="231" cy="546" rx="6" ry="52" transform="rotate(27 231 546)" fill="#90a816" opacity="0.9"/>
<ellipse cx="208" cy="472" rx="40" ry="5" transform="rotate(20 208 472)" fill="#246414" opacity="0.8"/>
</g>
<g filter="url(#bl6)">
<ellipse cx="112" cy="507" rx="46" ry="10" transform="rotate(14 112 507)" fill="#741470"/>
<ellipse cx="138" cy="515" rx="30" ry="10" transform="rotate(18 138 515)" fill="#8a1882"/>
<ellipse cx="85" cy="468" rx="22" ry="9" transform="rotate(10 85 468)" fill="#681068" opacity="0.7"/>
</g>
</g></g>
<path d="M88.2 438.6 L89.8 438.7 L91.3 440 L93.2 440.1 L94.9 440.9 L96.1 441.4 L97.5 442.1 L99.1 443.3 L100.9 443 L102.4 443 L103.8 444.5 L105.4 445.5 L106.9 445.5 L108.3 445.6 L109.8 445.9 L111.6 447.8 L113.4 447.4 L115 448.1 L116.2 448.2 L117.9 449.3 L119.9 449.9 L121.8 450.2 L122.9 450.5 L124.9 450.2 L126.3 451.7 L128 451.5 L129.6 451.8 L131.6 452.2 L133.3 452.7 L134.4 452.6 L136.1 453.6 L137.6 454.8 L139.5 454.9 L141 454.6 L142.5 455.8 L143.8 456.3 L145.1 456.3 L146.7 456.5 L148.3 457.2 L150.2 458.1 L151.8 458.9 L153.4 458.3 L154.4 458.4 L156.3 459.1 L157.7 458.8 L159.7 459.9 L160.9 460.1 L162.3 460.5 L164.4 461.6 L165.6 461.5 L167.1 461.5 L169 462.1 L170.7 461.9 L171.8 462.8 L173.6 463.8 L174.9 463.6 L176.2 464.9 L178.3 465 L179.5 465.2 L181.3 466.6 L182.5 467.3 L183.8 467.8 L185.4 468.7 L187.1 468.8 L188.6 468.8 L190.4 469.9 L191.5 470.7 L193.3 470.9 L194.6 471.4 L196.3 472.4 L197.6 472.3 L199.1 473.2 L200.7 474.4 L201.8 475 L203.4 475.9 L204.7 475.8 L206.1 476.5 L208.1 476.9 L209.3 478.1 L211 478.5 L212.7 478.4 L214 479.7 L215.6 480.1 L217.3 480.7 L218.4 481.6 L219.9 481.2 L221.7 481.8 L223.2 483.1 L224.8 483 L226.4 484.2 L228 484 L229.6 485.3 L230.7 485.2 L232.2 485.9 L233.9 485.8 L235.7 487.3 L237.4 487.4 L238.4 487.8 L240.2 488.2 L241.6 489.5 L243.5 490.3 L245 490.2 L246.3 491.5 L247.5 491 L249.3 491.4 L250.8 492 L252.3 492.9 L254 493.7 L255.6 494 L254.7 495.6 L254.1 496.6 L253 497.5 L252.4 499.6 L251.6 501.6 L251.2 502.5 L250.6 503.9 L249.4 505.1 L248.8 506.5 L248 508.3 L247.6 509.8 L246.9 511.3 L246.1 511.8 L245.5 514.2 L244.2 514.8 L243.9 517.1 L243.3 517.7 L242.4 519.9 L241.7 521.6 L240.5 522.4 L240.2 523.7 L239.2 525.1 L238.7 526.2 L238.1 528.7 L237.1 528.8 L236.2 531.3 L235.5 533.1 L235.2 533.9 L233.9 536.1 L233.7 537.1 L232.9 538.8 L231.8 539.5 L231 540.2 L230.1 542.3 L229.8 544.7 L228.6 545.5 L227.9 546 L227.1 547.7 L226.3 549.7 L225.5 550.7 L224.6 552.9 L224.2 554 L223.5 555.2 L222.8 556.1 L221.7 557.5 L221.3 559.3 L220.2 560.3 L219.2 562.6 L218.4 563.8 L217.8 565 L216.8 566.5 L216.6 567.5 L215.4 568.6 L214.6 571 L214 572.1 L213.3 572.6 L212.7 574.9 L211.3 577.2 L210.7 577.9 L210.3 578.6 L209.3 580.4 L208.5 581.7 L207.9 583.4 L206.7 585 L205.8 586.9 L205.1 588.5 L204.3 589.8 L203.8 591.2 L203.2 592.4 L201.9 594 L201.5 595.4 L200.6 596.6 L199.6 597.9 L198.8 600.2 L198.4 600.9 L197 601.8 L196.4 603.7 L195.6 604.7 L195.3 606.8 L193.5 606.1 L192.1 605.8 L190.3 604.8 L188.7 604.7 L187.3 604.1 L185.5 604.4 L184.3 603 L182.6 603.3 L181.1 602.2 L179.7 601.9 L177.8 602 L176.4 600.7 L175.3 600.7 L173.2 599.6 L172 599.2 L170.8 599.2 L168.9 598.2 L167.7 598.4 L165.8 597.4 L164.7 596.8 L162.8 595.7 L161.3 596 L159.7 594.5 L158.6 594.7 L157 593.2 L155.2 592.7 L153.7 592.4 L152.7 591.4 L151.2 590.8 L149.5 591.2 L148.1 590 L146.5 589.2 L144.6 589.2 L142.6 589.2 L141.5 587.9 L140 586.8 L138.1 587.1 L136.2 587.5 L134.9 585.7 L133.5 585.9 L131.9 584.9 L130.1 584.8 L128.6 583.5 L126.9 583.7 L124.8 584.5 L123.8 583.1 L122.1 582.4 L120.4 582.7 L118.8 583 L117.2 581.3 L115.3 581.8 L113.6 580.6 L111.9 580.6 L110.3 580.6 L108.6 579.4 L107.5 579.7 L105.5 578.6 L104.1 579 L102.8 577.7 L100.7 578 L99.3 577.2 L97.7 576.9 L96.1 575.7 L94.7 575.5 L93.2 575.6 L91.6 574.6 L90.1 575 L88.6 573.9 L87.1 573.3 L85 572.6 L83.5 572.5 L82.5 571.8 L80.5 572.1 L79.3 570.8 L77.3 571.1 L76.1 570.3 L74.2 569 L73.1 568.9 L71.2 568.5 L69.9 567.9 L68.3 567.4 L66.6 567.3 L65 566.1 L63.9 566.8 L62.3 566.4 L60.5 566.1 L59 565.1 L57.3 565.4 L55.9 564.2 L54.1 564.2 L52.6 562.7 L50.7 562.4 L49.4 561.8 L47.9 562.5 L46 561.6 L45 560.5 L43.3 560.5 L41.6 559.5 L39.7 559.2 L38.1 558.3 L36.7 558 L35.3 558.6 L33.8 557.3 L31.9 557.7 L30.8 556.9 L30.4 554.5 L31.3 553.2 L31.1 551 L31.2 549.3 L32.1 548.4 L32.9 547 L33.8 544.5 L34.2 544.2 L35.3 543.2 L36.3 541.1 L36.7 539.5 L37.3 537.7 L38 536.6 L38.8 535.1 L39.5 534.3 L40.2 532.6 L41.1 531.1 L42 529.2 L42.3 528.8 L43 526.8 L44.4 524.8 L45.1 524 L45.7 521.9 L46 521.2 L47.2 519.9 L47.7 518.2 L48.7 516.7 L49.4 515 L49.6 513 L51.1 511.8 L51.7 510.5 L52.5 509.6 L52.8 507.9 L53.9 506.4 L54.1 505.3 L54.8 503.1 L55.8 501.6 L56.8 500.5 L57.2 499.6 L58.4 497.6 L58.5 496.6 L59.8 494.7 L60.1 493.4 L61.2 491.9 L61.6 489.9 L62.5 489.4 L63.6 487.5 L63.9 486.6 L64.5 483.8 L65.6 483.7 L66.5 481.4 L67.1 480.8 L67.7 478.1 L68.3 477.3 L69.1 475.9 L69.8 475 L70.4 472.6 L71.2 471.8 L72.2 471 L72.6 469.1 L73.8 467.6 L74.3 465.6 L74.8 464.9 L75.6 463.6 L76.7 461 L77.5 460.7 L77.9 458.9 L78.5 457.2 L79.6 455.5 L80.6 454.3 L80.8 452.5 L82.1 451.6 L82.3 449.9 L82.9 449 L83.8 447.3 L84.7 446.3 L85.8 444.5 L86.5 443.2 L87.2 441.4 L87.5 440.1Z" fill="none" stroke="#d0b8b0" stroke-width="0.8" opacity="0.9"/>
<path d="M88.9 439.9v-2.1M91.8 440.9v-2.2M92.9 441.3v-3.9M94.1 441.7v-4M97.8 443v-3.1M100.1 443.9v-3.7M101.9 444.5v-2.3M103.2 444.9v-2.1M114.2 448.8v-1.8M120.8 450.6v-1.9M127.3 452.3v-1.8M128.5 452.6v-3.1M130.6 453.2v-2.3M133.6 454.1v-2.5M137.9 455.4v-1.8M142.9 456.9v-4.8M143.8 457.1v-1.9M145.4 457.6v-2.1M146.7 458v-2.5M149.6 458.9v-3.1M151.8 459.4v-4.2M152.9 459.6v-4.2M155.2 460.1v-4.8M155.9 460.2v-4M157.6 460.6v-3.1M169.3 463v-1.9M170.7 463.3v-2.5M172.4 463.8v-5.4M173.3 464.1v-1.8M174.6 464.7v-2.8M176.4 465.4v-2.7M177.5 465.8v-2.2M179.9 466.8v-2.8M182.8 468v-2.6M186.6 469.5v-4.7M187.5 469.8v-1.9M192.4 471.8v-2.8M193.6 472.3v-5.2M195.4 473v-4.7M196 473.3v-2.7M196.8 473.6v-1.8M207.7 478v-2.1M208.6 478.3v-2.3M209.2 478.6v-5M217.7 481.8v-4.2M218.4 482.1v-2.1M219.4 482.4v-2.1M220.6 482.8v-1.9M224.5 484.2v-1.8M225.7 484.6v-2.1M226.6 484.9v-2.2M231.4 486.6v-1.9M236.7 488.4v-3.4M238.2 489v-1.8M242.8 490.6v-1.8M246.1 491.7v-4.9M247.8 492.3v-2.5M251.7 493.7v-2.4M254.1 494.5v-4.3M252.2 499.4v2.4M249.6 504.5v5.1M248.5 506.7v3.1M247.7 508.3v1.8M247.6 508.4v5.2M246.9 509.8v2.3M246.1 511.3v3.5M243.6 516.2v2.2M243.3 516.7v4.1M238.7 525.7v2.6M238.3 526.5v1.9M237.4 528.3v2.1M236.5 530v2.9M235.1 532.8v3.5M234 534.8v4.3M233.3 536.1v2.1M233 536.6v5M230.3 541.5v3.7M227.5 546.5v2.2M225.5 550.3v2.2M224.9 551.3v3M224.2 552.6v1.8M219.1 561.8v2.2M217.5 564.6v3M216.9 565.8v4.5M216.4 566.6v2.1M213.4 572v2.1M212.4 574v1.9M210.2 578v5.4M208.3 581.4v3.9M206.3 585.1v2.3M205.2 587.1v3.4M204.8 587.9v4M203.5 590.4v2.9M202.6 592v1.9M202.6 592.1v4.4M201.7 593.7v3.5M201 594.9v2.1M200.5 595.9v2.8M198.8 598.9v2.1M196.8 602.6v3.9M195.1 605.8v2.7M194.8 605.9v2.8M193.4 605.5v2.7M183.7 602.3v3.2M183.3 602.2v1.8M179.2 600.8v3.8M177 600.1v3.1M174.3 599.3v1.8M173.1 598.9v2.7M169.7 597.6v2.7M168.7 597.2v1.9M163.2 594.9v2.2M159 593.2v2.3M157.5 592.6v5.2M152.9 590.8v2M151.2 590.1v3.3M150.2 589.8v1.9M149.1 589.4v3.1M144.9 588.2v2.3M138.7 586.3v3.7M135.4 585.3v1.9M133.2 584.7v3.5M132.3 584.4v2.2M130.9 584v2.9M129.2 583.5v5M125.3 582.6v3.1M119.7 581.3v1.9M116.5 580.6v1.8M112.4 579.6v1.9M109.3 578.9v3.2M109.1 578.9v2.1M106.6 578.3v4M105.6 578.1v3.2M103.3 577.5v2.4M102.5 577.2v3M100.6 576.7v3M99.4 576.3v3.1M98.1 575.9v3.9M96.5 575.4v5.1M95.7 575.2v2.2M93.7 574.6v2M91 573.8v2.2M85.5 572.1v3.3M84.4 571.8v1.9M80.3 570.5v2M76.4 569.4v2.4M75.7 569.2v2.3M69.8 567.4v2.3M67.7 566.7v2.3M66.3 566.3v1.8M58.9 564.1v2.6M58.1 563.8v1.9M53.4 562.4v3.9M52.8 562.2v3.8M50.9 561.7v2.3M50.6 561.6v2.5M46.5 560.3v2M43.7 559.5v1.9M40.6 558.5v3.5M38.8 558v3M37.7 557.7v2M36.3 557.3v2.2M30.7 556.1v-3M31.1 553.5v-4.9M33.3 547.1v-1.8M35 543.7v-3M35.7 542.4v-1.9M36.6 540.5v-4.5M39.1 535.6v-3.8M41.1 531.8v-3.1M43.3 527.5v-2.3M43.7 526.8v-3.7M44.2 525.7v-4.6M45.1 523.9v-5.1M45.7 522.8v-2.3M46 522.3v-1.8M48.2 518v-4.6M49.5 515.4v-2.4M50.1 514.2v-2.1M50.9 512.7v-3.6M51.6 511.4v-1.8M53.1 508.4v-2.1M55.1 504.5v-3.9M57.8 499.2v-3.7M58.3 498.3v-4.6M59.8 495.4v-1.8M60.9 493.2v-2.6M62.2 490.7v-5.1M63.4 488.4v-2.8M64.6 486v-3.2M65.4 484.5v-3.3M66.2 483v-2.2M66.2 482.8v-3.7M67.1 481.2v-4.4M68 479.4v-2.2M68.3 478.8v-2.6M73.1 469.4v-2.6M74.5 466.8v-3M75.9 464.1v-3M77.2 461.6v-2.3M78.7 458.5v-2M79.7 456.6v-2.1M80.4 455.3v-1.9M80.8 454.5v-1.8M81.6 452.9v-3.8M81.9 452.4v-2M82.7 450.7v-2.4M83.9 448.4v-1.9M84.8 446.7v-2.5M85.3 445.7v-2.1" stroke="#c8b0c0" stroke-width="0.6" fill="none" opacity="0.8"/>
<line x1="152.7" y1="498" x2="131" y2="541.6" stroke="#fff" stroke-width="2.2" stroke-linecap="round"/>
<g filter="url(#texB)"><g clip-path="url(#cpd)">
<rect x="385.4" y="442.8" width="231.1" height="159.7" fill="#b45412"/>
<g filter="url(#bl7)">
<ellipse cx="505" cy="520" rx="80" ry="40" transform="rotate(15 505 520)" fill="#b0981a"/>
<ellipse cx="516" cy="522" rx="52" ry="26" transform="rotate(12 516 522)" fill="#60a018"/>
<ellipse cx="565" cy="506" rx="18" ry="15" transform="rotate(15 565 506)" fill="#70a018"/>
<ellipse cx="425" cy="540" rx="30" ry="10" transform="rotate(15 425 540)" fill="#b83810" opacity="0.8"/>
<ellipse cx="587" cy="548" rx="9" ry="40" transform="rotate(27 587 548)" fill="#b83810" opacity="0.8"/>
<ellipse cx="480" cy="574" rx="70" ry="7" transform="rotate(14 480 574)" fill="#b83c10" opacity="0.8"/>
<ellipse cx="450" cy="462" rx="30" ry="6" transform="rotate(14 450 462)" fill="#a87414" opacity="0.8"/>
</g>
<g filter="url(#bl4)">
<ellipse cx="487" cy="516" rx="19" ry="8" transform="rotate(38 487 516)" fill="#145c1c"/>
<ellipse cx="520" cy="535" rx="20" ry="7" transform="rotate(10 520 535)" fill="#186420"/>
<ellipse cx="546" cy="518" rx="7" ry="16" transform="rotate(18 546 518)" fill="#388420" opacity="0.8"/>
</g>
</g></g>
<path d="M446.3 445.5 L448 446.7 L449.4 446.8 L451.1 447.5 L452.6 447 L454.5 447 L455.6 448.6 L457.5 448.3 L458.7 448.7 L460.4 448.8 L462.4 449.9 L464 449.7 L465.5 450.6 L466.6 451.6 L468.1 451.5 L469.9 450.9 L471.6 452.4 L473.4 452 L474.5 453.4 L476.5 453.4 L477.8 454.3 L480.1 454.6 L481.7 455.1 L483.2 455.9 L485 455.7 L486.5 456.5 L488.2 457.2 L490.2 457.4 L491.9 458.3 L493.2 458.2 L495.3 459.1 L496.9 459 L498.3 459.2 L499.7 459.6 L501.9 460.2 L503.5 459.9 L504.7 460.9 L506.7 460.5 L508.2 460.7 L510.1 461.7 L511.6 462.4 L512.8 462.2 L514.5 462.1 L516.4 463.2 L517.8 463 L519.4 464.3 L521.1 464.7 L522.6 464.8 L524.3 465.2 L525.9 465.2 L527 466.5 L528.7 466 L530.2 465.9 L531.7 467.1 L533.9 466.6 L535.1 467.7 L536.6 468.1 L538 468.5 L539.6 469.1 L541.1 469 L543.2 469.5 L544.8 470.2 L545.8 470.3 L547.3 471 L549 472.1 L550.5 471.4 L552.5 471.7 L553.8 472.8 L555 472.3 L556.7 472.8 L558.5 473.8 L560.2 474.3 L561.7 474.1 L563.3 474.7 L565 474.5 L566.3 475 L568 475.6 L569.6 475.9 L571.1 475.7 L572.4 477.2 L573.9 477.1 L575.4 477.7 L577.4 477.9 L578.6 478.6 L580.4 479 L582 478.7 L583.2 479.8 L585.3 479.7 L586.4 480.5 L588.2 480.7 L590.1 481.4 L591.1 480.9 L592.6 482 L594.3 481.8 L596.2 482.4 L597.7 482.4 L599 484 L600.9 484.4 L602.8 484 L603.9 485.1 L605.3 485.4 L607.4 486.1 L609.1 485.5 L610.6 486.7 L612.1 486.4 L613.4 487.3 L612.5 487.6 L612.2 489.9 L611.6 490.7 L610.8 492.5 L610 494.3 L609.8 495.4 L608.9 497.9 L608.2 498.3 L607.7 501 L606.6 501.8 L606 503.2 L605.2 505 L605.2 505.5 L604.1 507.2 L603.9 508.6 L603.2 510.6 L602 511.3 L601.8 513.2 L601.3 515 L600 516.5 L599.4 517.4 L599.1 519 L598.5 520.6 L597.9 521.7 L597.2 523 L596 525.4 L596 526.6 L595 527.6 L594.2 529.3 L593.3 530.6 L592.5 531.9 L592.3 533.5 L591.1 536 L590.3 536.1 L589.5 538.6 L588.7 539.6 L588 540.6 L587.4 542.4 L586.8 544.2 L585.7 545.1 L584.9 547.2 L584.9 548 L583.6 550 L582.8 551.2 L582.3 552.4 L581.3 553.9 L580.6 555 L580.2 556.9 L579.4 557.7 L578.3 559.5 L577.5 560.9 L576.7 562 L576.3 563 L575.7 565.4 L575.1 566.1 L574.1 567.9 L573.1 569.6 L572.6 571 L571.4 572.6 L570.7 574.1 L570 574.9 L568.5 576.5 L568.3 578.9 L567.3 579.5 L565.9 581.2 L565.5 582.6 L564.5 584.6 L563.8 585 L563 586.7 L562 587.6 L560.8 590.2 L560.2 590.5 L559.4 592.6 L558.3 593.8 L557.9 595.6 L556.7 596.6 L555.6 598.9 L555.2 599.6 L553.5 599.7 L551.7 599 L549.7 599.4 L548.4 598.1 L546.6 598.3 L545.1 597.3 L543.5 597.5 L541.8 597.3 L540.3 596.1 L538.2 596.2 L536.6 595.8 L535.6 595.8 L534 595.7 L532.2 594.7 L530.2 595 L528.5 594.1 L527.2 593.3 L525.5 593.1 L524.1 593.1 L522.4 591.9 L520.4 592.3 L518.7 591.5 L517.4 590.7 L515.5 590 L514.1 590.2 L512.4 589.5 L511.3 589.1 L509.3 589.1 L507.7 588.8 L506.1 587.6 L504.5 588.1 L503 587 L501.5 587.1 L499.8 587.1 L498 586.3 L496.5 586.9 L494.7 585.9 L493.2 584.5 L491.5 585.1 L489.8 584.4 L488.5 583.6 L487 584.1 L485.3 584.4 L483.8 583.7 L482.1 583.8 L480.1 583.1 L478.9 583.3 L477.3 582.4 L475.4 582.2 L474.1 581.5 L472.2 580.7 L470.3 581.2 L468.7 579.9 L467.3 580.1 L465.4 579.3 L464 579.2 L462.3 578.5 L461 578.4 L459.1 578.5 L457.6 578.4 L456.1 578.3 L454.7 577.2 L453 576.9 L451.6 576.7 L450 576.1 L448.4 575.4 L447 575.6 L445.5 575.3 L443.7 575.3 L442.6 573.9 L440.7 573.5 L438.8 573.6 L437.5 572.2 L435.7 572.2 L434.5 572.5 L433 571.7 L431.3 571 L429.9 570.8 L428.3 570.5 L426.7 570.2 L425.3 569 L423.2 569.8 L422.1 569.2 L420.1 568.9 L418.8 567.6 L416.9 567.6 L415.3 567.3 L414.2 567.3 L412.7 566.3 L410.9 565.2 L409.4 564.7 L407.3 564.1 L405.7 564.4 L404.7 563.9 L402.8 563.2 L401.4 563.2 L399.3 562.2 L398.2 562.6 L396.5 561.2 L394.6 560.3 L393.1 559.8 L391.3 559.9 L389.9 559 L388.6 558.4 L389 556.5 L388.9 555.6 L389.8 553.3 L390.4 552.3 L391.5 552.1 L392 550 L392.9 548.6 L393.2 547.3 L394.6 546.2 L394.8 544.2 L395.6 541.9 L396.6 540.8 L397.4 540 L397.8 538.7 L398.8 537.4 L399.1 535.6 L400.2 534.8 L401.2 532.7 L401.3 530.6 L402.6 530 L403.2 528.5 L404.1 527.3 L404.8 525.8 L405.1 524.2 L405.8 523.3 L406.9 521 L407.9 519.6 L408.3 518.3 L409.3 516.5 L410 515.5 L410.5 514.6 L411.7 512.4 L412.3 510.5 L412.8 509.6 L413.5 508.4 L414.4 507.1 L414.7 506 L415.6 504.1 L416.6 503.6 L417.1 501.8 L418 500.3 L418.5 498.4 L419.8 497.3 L420.3 495.7 L420.8 495 L422 492.7 L422.2 490.6 L423.2 490.1 L424 489.3 L424.8 486.9 L425.6 485.6 L425.9 484 L427.2 483.6 L427.4 481.1 L428.6 480.6 L429.4 478.5 L430.2 477.7 L430.9 476.1 L431.5 473.4 L432.4 472.5 L433 472 L433.8 470 L434.5 468.2 L434.8 467.6 L436.1 465.5 L436.5 464 L437.4 463.5 L438 461.3 L438.9 459.8 L439.4 459.1 L440.6 456.9 L441.2 455.8 L441.5 455 L442.3 452.6 L443 450.9 L444.4 449.8 L444.9 449.4 L445.7 447.2Z" fill="none" stroke="#e8c0a8" stroke-width="0.8" opacity="0.9"/>
<path d="M446.6 446.9v-3.8M448.7 447.4v-2.1M449.4 447.6v-1.9M450.5 447.9v-2.6M452.6 448.4v-2.2M454.2 448.8v-2.6M457.5 449.6v-1.9M458.1 449.8v-2.8M461.6 450.7v-1.8M462.7 450.9v-4.3M465.1 451.6v-2M473.4 453.7v-2.1M475.6 454.3v-5M478.3 455v-4.5M480.5 455.7v-1.8M483.2 456.4v-1.8M483.8 456.6v-2.3M488.9 458.1v-1.8M495.3 459.5v-2M496 459.7v-2.6M497.9 460.1v-2.1M498.1 460.1v-1.8M503.5 461.2v-1.9M505.7 461.7v-2.6M506.4 461.8v-2.6M511 462.9v-1.8M512.2 463.1v-1.8M513.9 463.5v-3.7M514.7 463.8v-1.8M516.6 464.2v-2M521.4 465.4v-2.5M522.5 465.7v-2M524.4 466.1v-3.4M528 467v-4.2M529.1 467.3v-4.1M529.5 467.4v-2.8M531.6 467.9v-1.9M532.5 468.1v-5.7M534.5 468.6v-3.2M534.7 468.7v-2.6M535.9 469v-2.4M542 470.5v-1.8M545.2 471.3v-2.5M549.6 472.4v-2.7M551.5 472.8v-2.2M553.3 473.3v-3.5M554.4 473.5v-3.7M556.3 474v-4.9M564.7 476.1v-4.4M566.1 476.4v-5.1M566.9 476.6v-3.2M571.9 477.9v-1.9M582.3 480.4v-2.2M584.2 480.9v-3.1M587.9 481.8v-3.5M588.6 481.9v-3.6M590.7 482.5v-3.4M592 482.8v-5M595.6 483.6v-2.6M595.7 483.7v-1.9M603.8 485.6v-2.6M606.8 486.4v-2M607.8 486.6v-1.8M609.2 487v-1.9M610.8 487.4v-3.3M613.4 486.2v2.1M612.9 487.4v2.8M610.6 492.5v2.3M609.7 494.4v2M608.9 496.2v2M606.2 502.2v2.9M603.8 507.5v2M602.8 509.6v2.5M602.2 511v5.4M602.1 511.4v5.4M601.2 513.3v1.8M599.7 516.6v5.5M599.1 518v1.8M598.4 519.5v1.8M593.7 529.4v3.6M591.7 533.2v3.6M591.1 534.5v2.6M590.1 536.3v5.5M589.9 536.7v1.8M588.8 538.8v2.5M588.7 538.9v2.3M585.3 545.5v5.3M583.7 548.5v2.8M582.8 550.2v4.5M582.6 550.6v2.8M581 553.7v2.4M580.2 555.1v2.6M579.4 556.6v2.3M577.9 559.6v1.8M577.7 560v3M575.6 563.9v3.1M574.5 566.1v1.9M573.4 568.1v4.4M572.4 569.7v3.6M570.9 572.2v3.2M567.5 577.9v4.1M567.1 578.4v3.6M566.5 579.5v2.3M565.6 580.9v2.1M564.9 582v2M564.2 583.3v4.4M562.8 585.5v2.1M562.3 586.4v3M561.2 588.2v1.8M558.6 592.5v2.1M557.3 594.6v4.3M556.9 595.4v1.8M555.5 597.7v3.5M553.1 598.1v2.7M550.6 597.6v2.8M548.9 597.3v4.2M546.8 596.9v1.9M543.6 596.3v1.9M541.6 595.9v3.9M539.3 595.4v1.9M537.6 595.1v4.2M533.5 594.3v5.5M531.8 594v3.8M530.5 593.6v2M528.3 592.9v1.8M523.6 591.6v1.9M522.2 591.2v2.4M518.4 590.1v2.3M514.5 589v2.2M512.6 588.5v2.8M511.9 588.3v2.3M506.1 587v4.8M505.7 586.9v5.1M502.2 586.2v2.3M500.9 585.9v3.1M500.5 585.8v2.4M498.6 585.5v5.4M497.6 585.2v1.8M495.8 584.9v4.9M490.9 583.9v2.4M488.3 583.4v4.4M485.6 582.8v3.6M481.2 581.9v3.9M479.9 581.7v4M478.4 581.4v2.7M477.6 581.2v1.8M476.7 581v5M474.6 580.6v5.3M468.4 579.4v2.9M466.2 578.9v5.3M458.6 577.2v2M457.2 576.8v2.8M455.5 576.4v2.1M454.9 576.2v1.8M447.9 574.5v4M445 573.7v1.8M443.2 573.3v1.8M439.8 572.5v5M437.5 571.9v3.6M431.9 570.5v3.5M424.4 568.6v2M423.2 568.3v2M421.9 568v2.1M417.6 566.7v2.3M414.7 565.8v2.6M413.9 565.5v2.2M411.8 564.9v2.8M409.6 564.2v1.8M407.8 563.7v3.7M406.3 563.2v2.6M402.8 562.2v1.8M397 560.4v2.2M395.3 559.9v2.1M394.5 559.7v2.5M389.3 558.1v1.9M389 556.5v-4.9M390.3 554.1v-2.9M391.3 552.2v-2.7M392.4 550.1v-1.8M393.7 547.5v-2.9M397.1 541v-5.2M397.5 540.2v-2.8M398.7 537.9v-2M400 535.4v-2M400.9 533.7v-3.8M404 527.8v-1.8M405.1 525.7v-3.1M405.3 525.3v-4.9M409.8 516.7v-1.8M410.3 515.7v-1.8M411 514.4v-1.9M412.5 511.6v-2.7M413.3 510.1v-2.9M415.5 505.7v-2.4M416.5 503.9v-3.9M417 503v-3.2M417.6 501.7v-2.9M418.3 500.4v-2.6M419.9 497.3v-3.4M421.6 494.1v-1.8M422.2 492.9v-4.6M423 491.5v-2.1M428.5 481v-3.3M429.1 479.8v-3.7M429.8 478.4v-2.4M431.4 475.3v-3.8M432.8 472.7v-2.3M435.6 467.2v-4.4M437.2 464.2v-4M437.8 463.1v-3.1M438.2 462.4v-1.9M440.7 457.6v-5.2M441.1 456.8v-3.2M443 453.1v-4M443.4 452.4v-5M445.2 449v-4.2M446.1 447.1v-2" stroke="#f0c8a8" stroke-width="0.6" fill="none" opacity="0.8"/>
<line x1="520.5" y1="498" x2="498.8" y2="541.6" stroke="#fff" stroke-width="2.2" stroke-linecap="round"/>
<text class="wt" x="52.6" y="35.4">3D KPFM potential</text>
<text class="wt" text-anchor="middle" x="168.9" y="236.1">BNB-dark</text>
<rect x="270.5" y="64.6" width="13.4" height="134.2" fill="url(#cb)"/>
<text class="wt" style="font-size:12.35px" text-anchor="middle" x="273.8" y="56.1">–90.0 mV</text>
<text class="wt" style="font-size:12.35px" text-anchor="middle" x="276.7" y="221.3">–150.0 mV</text>
<text class="wt" x="421.5" y="35.4">3D KPFM potential</text>
<text class="wt" text-anchor="middle" x="497" y="236.1">BNB-Light</text>
<rect x="628.6" y="66.2" width="13.2" height="134.2" fill="url(#cb)"/>
<text class="wt" style="font-size:12.35px" text-anchor="middle" x="633.8" y="56.1">–90.0 mV</text>
<text class="wt" style="font-size:12.35px" text-anchor="middle" x="637.1" y="221.3">–150.0 mV</text>
<text class="wt" x="52.6" y="407.5">3D KPFM potential</text>
<text class="wt" text-anchor="middle" x="140" y="630">BNB/BWO-dark</text>
<rect x="270.5" y="460" width="13.4" height="134" fill="url(#cb)"/>
<text class="wt" style="font-size:12.35px" text-anchor="middle" x="276.7" y="451.2">–148.0 mV</text>
<text class="wt" style="font-size:12.35px" text-anchor="middle" x="276.7" y="611.8">–181.0 mV</text>
<text class="wt" x="421.5" y="407.5">3D KPFM potential</text>
<text class="wt" text-anchor="middle" x="490.5" y="630">BNB/BWO-Light</text>
<rect x="629" y="463.5" width="13.2" height="134" fill="url(#cb)"/>
<text class="wt" style="font-size:12.35px" text-anchor="middle" x="627.8" y="451.3">–148.0 mV</text>
<text class="wt" style="font-size:12.35px" text-anchor="middle" x="627.8" y="611.9">–181.0 mV</text>
<path class="fr" d="M51.7 274.6 H317 V345.3"/>
<path class="fr2" d="M51.7 274 V345.3 H317.6"/>
<line class="tick" x1="49.7" y1="274.6" x2="51.7" y2="274.6"/>
<text class="tk" text-anchor="end" x="47.3" y="279">−100</text>
<line class="tick" stroke-width="0.5" x1="50.2" y1="281.7" x2="51.7" y2="281.7"/>
<line class="tick" x1="49.7" y1="288.7" x2="51.7" y2="288.7"/>
<text class="tk" text-anchor="end" x="47.3" y="293.1">−105</text>
<line class="tick" stroke-width="0.5" x1="50.2" y1="295.8" x2="51.7" y2="295.8"/>
<line class="tick" x1="49.7" y1="302.9" x2="51.7" y2="302.9"/>
<text class="tk" text-anchor="end" x="47.3" y="307.3">−110</text>
<line class="tick" stroke-width="0.5" x1="50.2" y1="309.9" x2="51.7" y2="309.9"/>
<line class="tick" x1="49.7" y1="317" x2="51.7" y2="317"/>
<text class="tk" text-anchor="end" x="47.3" y="321.4">−115</text>
<line class="tick" stroke-width="0.5" x1="50.2" y1="324.1" x2="51.7" y2="324.1"/>
<line class="tick" x1="49.7" y1="331.2" x2="51.7" y2="331.2"/>
<text class="tk" text-anchor="end" x="47.3" y="335.6">−120</text>
<line class="tick" stroke-width="0.5" x1="50.2" y1="338.2" x2="51.7" y2="338.2"/>
<line class="tick" x1="49.7" y1="345.3" x2="51.7" y2="345.3"/>
<text class="tk" text-anchor="end" x="47.3" y="349.7">−125</text>
<line class="tick" x1="51.7" y1="345.3" x2="51.7" y2="347.3"/>
<text class="tk" text-anchor="middle" x="51.8" y="359.1">0.0</text>
<line class="tick" stroke-width="0.6" x1="64.6" y1="345.3" x2="64.6" y2="346.6"/>
<line class="tick" x1="77.6" y1="345.3" x2="77.6" y2="347.3"/>
<text class="tk" text-anchor="middle" x="77.7" y="359.1">0.2</text>
<line class="tick" stroke-width="0.6" x1="90.5" y1="345.3" x2="90.5" y2="346.6"/>
<line class="tick" x1="103.4" y1="345.3" x2="103.4" y2="347.3"/>
<text class="tk" text-anchor="middle" x="103.5" y="359.1">0.4</text>
<line class="tick" stroke-width="0.6" x1="116.3" y1="345.3" x2="116.3" y2="346.6"/>
<line class="tick" x1="129.3" y1="345.3" x2="129.3" y2="347.3"/>
<text class="tk" text-anchor="middle" x="129.4" y="359.1">0.6</text>
<line class="tick" stroke-width="0.6" x1="142.2" y1="345.3" x2="142.2" y2="346.6"/>
<line class="tick" x1="155.1" y1="345.3" x2="155.1" y2="347.3"/>
<text class="tk" text-anchor="middle" x="155.2" y="359.1">0.8</text>
<line class="tick" stroke-width="0.6" x1="168.1" y1="345.3" x2="168.1" y2="346.6"/>
<line class="tick" x1="181" y1="345.3" x2="181" y2="347.3"/>
<text class="tk" text-anchor="middle" x="181.1" y="359.1">1.0</text>
<line class="tick" stroke-width="0.6" x1="193.9" y1="345.3" x2="193.9" y2="346.6"/>
<line class="tick" x1="206.9" y1="345.3" x2="206.9" y2="347.3"/>
<text class="tk" text-anchor="middle" x="207" y="359.1">1.2</text>
<line class="tick" stroke-width="0.6" x1="219.8" y1="345.3" x2="219.8" y2="346.6"/>
<line class="tick" x1="232.7" y1="345.3" x2="232.7" y2="347.3"/>
<text class="tk" text-anchor="middle" x="232.8" y="359.1">1.4</text>
<line class="tick" stroke-width="0.6" x1="245.6" y1="345.3" x2="245.6" y2="346.6"/>
<line class="tick" x1="258.6" y1="345.3" x2="258.6" y2="347.3"/>
<text class="tk" text-anchor="middle" x="258.7" y="359.1">1.6</text>
<line class="tick" stroke-width="0.6" x1="271.5" y1="345.3" x2="271.5" y2="346.6"/>
<line class="tick" x1="284.4" y1="345.3" x2="284.4" y2="347.3"/>
<text class="tk" text-anchor="middle" x="284.5" y="359.1">1.8</text>
<line class="tick" stroke-width="0.6" x1="297.4" y1="345.3" x2="297.4" y2="346.6"/>
<line class="tick" x1="310.3" y1="345.3" x2="310.3" y2="347.3"/>
<text class="tk" text-anchor="middle" x="310.4" y="359.1">2.0</text>
<text class="ax" text-anchor="middle" x="173.5" y="372.5">Position / μm</text>
<text class="ax" text-anchor="middle" transform="translate(17.8 310) rotate(-90)">Potential / mV</text>
<path class="cv" d="M51.5 335 L54 336.4 L57.3 337 L60 336.6 L63 337.4 L66 337 L68.5 338.5 L71 337.2 L74 337.8 L78.7 338 L83 336.6 L88 336.2 L92 337 L96 335 L101 333 L106.3 331.3 L113 328 L120.6 324.2 L125 322.5 L127 320.6 L130.8 318 L135 316.5 L139 313.5 L143 311.6 L147.2 308.8 L151 306.8 L153 304.8 L156 303.2 L159.4 300.7 L163 299.2 L165 297 L168 296.4 L171.7 294.1 L174 294.4 L176 292 L178.9 291 L180 291.5 L183 290.6 L185 291.6 L188 290.7 L190.2 291 L194 291.6 L199.4 293.5 L203 296 L205 297.2 L207 297 L208.6 299.6 L211 299.4 L213 301.6 L215.5 301.2 L217.8 302.7 L221 305 L223 304.6 L225 307 L227 307.8 L230 309 L232 308.6 L234.5 311.5 L237.2 314 L240 313 L243.4 313.3 L247 315.6 L251.5 317.4 L255 316.2 L258 317.2 L261 316 L263.8 316.6 L268 318.6 L272 319.7 L275 318.7 L278 320 L281 319.2 L284 318.4 L286.3 320.7 L290 320.3 L293 321.6 L296 321 L299 322.4 L302.6 323.5 L306 325 L309 327.2 L311.8 328.2 L314 327.6 L316.5 327.2"/>
<line class="bl" x1="112.9" y1="292.9" x2="240.9" y2="292.9"/>
<line class="bl" x1="79.7" y1="338.7" x2="259.7" y2="338.7"/>
<line class="ar" x1="121.6" y1="306.3" x2="121.6" y2="325.7"/><path class="ah" d="M121.6 300.7 L118.1 307.3 L125.1 307.3Z"/><path class="ah" d="M121.6 331.3 L118.1 324.7 L125.1 324.7Z"/>
<text class="dp" x="140" y="324.8"><tspan font-family="Liberation Serif, serif" font-size="11.6">Δ</tspan><tspan font-style="italic" font-size="12.4">φ</tspan> = 16.0756 mV</text>
<path class="fr" d="M401.3 274 H674.5 V346.6"/>
<path class="fr2" d="M401.3 273.4 V346.6 H675.1"/>
<line class="tick" x1="399.3" y1="274" x2="401.3" y2="274"/>
<text class="tk" text-anchor="end" x="396.2" y="277.8">−115</text>
<line class="tick" stroke-width="0.5" x1="399.8" y1="281.3" x2="401.3" y2="281.3"/>
<line class="tick" x1="399.3" y1="288.5" x2="401.3" y2="288.5"/>
<text class="tk" text-anchor="end" x="396.2" y="292.3">−120</text>
<line class="tick" stroke-width="0.5" x1="399.8" y1="295.8" x2="401.3" y2="295.8"/>
<line class="tick" x1="399.3" y1="303" x2="401.3" y2="303"/>
<text class="tk" text-anchor="end" x="396.2" y="306.8">−125</text>
<line class="tick" stroke-width="0.5" x1="399.8" y1="310.3" x2="401.3" y2="310.3"/>
<line class="tick" x1="399.3" y1="317.6" x2="401.3" y2="317.6"/>
<text class="tk" text-anchor="end" x="396.2" y="321.4">−130</text>
<line class="tick" stroke-width="0.5" x1="399.8" y1="324.8" x2="401.3" y2="324.8"/>
<line class="tick" x1="399.3" y1="332.1" x2="401.3" y2="332.1"/>
<text class="tk" text-anchor="end" x="396.2" y="335.9">−135</text>
<line class="tick" stroke-width="0.5" x1="399.8" y1="339.3" x2="401.3" y2="339.3"/>
<line class="tick" x1="399.3" y1="346.6" x2="401.3" y2="346.6"/>
<text class="tk" text-anchor="end" x="396.2" y="350.4">−140</text>
<line class="tick" x1="401.3" y1="346.6" x2="401.3" y2="348.6"/>
<text class="tk" text-anchor="middle" x="401.4" y="359.1">0.0</text>
<line class="tick" stroke-width="0.6" x1="416.5" y1="346.6" x2="416.5" y2="347.9"/>
<line class="tick" x1="431.7" y1="346.6" x2="431.7" y2="348.6"/>
<text class="tk" text-anchor="middle" x="431.8" y="359.1">0.2</text>
<line class="tick" stroke-width="0.6" x1="446.8" y1="346.6" x2="446.8" y2="347.9"/>
<line class="tick" x1="462" y1="346.6" x2="462" y2="348.6"/>
<text class="tk" text-anchor="middle" x="462.1" y="359.1">0.4</text>
<line class="tick" stroke-width="0.6" x1="477.2" y1="346.6" x2="477.2" y2="347.9"/>
<line class="tick" x1="492.4" y1="346.6" x2="492.4" y2="348.6"/>
<text class="tk" text-anchor="middle" x="492.5" y="359.1">0.6</text>
<line class="tick" stroke-width="0.6" x1="507.6" y1="346.6" x2="507.6" y2="347.9"/>
<line class="tick" x1="522.7" y1="346.6" x2="522.7" y2="348.6"/>
<text class="tk" text-anchor="middle" x="522.8" y="359.1">0.8</text>
<line class="tick" stroke-width="0.6" x1="537.9" y1="346.6" x2="537.9" y2="347.9"/>
<line class="tick" x1="553.1" y1="346.6" x2="553.1" y2="348.6"/>
<text class="tk" text-anchor="middle" x="553.2" y="359.1">1.0</text>
<line class="tick" stroke-width="0.6" x1="568.3" y1="346.6" x2="568.3" y2="347.9"/>
<line class="tick" x1="583.5" y1="346.6" x2="583.5" y2="348.6"/>
<text class="tk" text-anchor="middle" x="583.6" y="359.1">1.2</text>
<line class="tick" stroke-width="0.6" x1="598.6" y1="346.6" x2="598.6" y2="347.9"/>
<line class="tick" x1="613.8" y1="346.6" x2="613.8" y2="348.6"/>
<text class="tk" text-anchor="middle" x="613.9" y="359.1">1.4</text>
<line class="tick" stroke-width="0.6" x1="629" y1="346.6" x2="629" y2="347.9"/>
<line class="tick" x1="644.2" y1="346.6" x2="644.2" y2="348.6"/>
<text class="tk" text-anchor="middle" x="644.3" y="359.1">1.6</text>
<line class="tick" stroke-width="0.6" x1="659.4" y1="346.6" x2="659.4" y2="347.9"/>
<line class="tick" x1="674.5" y1="346.6" x2="674.5" y2="348.6"/>
<text class="tk" text-anchor="middle" x="674.6" y="359.1">1.8</text>
<text class="ax" text-anchor="middle" x="541.1" y="372.1">Position / μm</text>
<text class="ax" text-anchor="middle" transform="translate(366 314.2) rotate(-90)">Potential / mV</text>
<path class="cv" d="M401.4 331.5 L404 333 L406.5 334 L409 333 L411.5 332 L414 331.5 L416 332.6 L417.8 333.3 L420 332 L423 331.6 L425.5 332.2 L427.8 330.8 L431 329.4 L433 330.6 L435.3 330.3 L438 329 L440 327 L442.9 326 L446 326.4 L449 324.6 L452 324.2 L455.4 322.7 L458 321 L460 321.5 L463 318.5 L465 319.2 L468 316.8 L470 316.4 L473 313.5 L476 312.8 L479 311 L483 309.7 L486 307.5 L488 305.6 L490.6 303.9 L493 303 L496 300.6 L498 300.2 L500.6 298.9 L503 296 L505.5 296.3 L508.2 294.6 L511 292.8 L513 293.4 L515.5 291.2 L518.2 291.4 L521 289.8 L523 289.6 L526 290.6 L528.5 288.6 L531.8 288.1 L535 288.6 L538 287.6 L540.5 288 L542.6 290.1 L545 289.4 L546.9 287.6 L549 287.4 L551 288.6 L553.2 290.1 L555.5 289.8 L558.2 288.9 L560.5 290.6 L563.2 292.1 L566 291.6 L568.5 292.6 L570.7 293.9 L574 296.6 L576 299 L578.3 300.1 L581 300.6 L584 302 L586 303.6 L588.3 303.9 L591 305.6 L594 305.4 L596 306.6 L598.4 306.4 L602 308 L605 309 L608 310.4 L610.9 310.7 L614 310.2 L617 311 L620 310.4 L623.5 310.7 L627 310.2 L631 309.7 L635 310.6 L639 310.2 L642 311 L646 311.4 L650 310.4 L654 311.6 L658 311.2 L663.6 312 L667 312.2 L670 313.4 L674.4 314.7"/>
<line class="bl" x1="466.2" y1="287.6" x2="594.8" y2="287.6"/>
<line class="bl" x1="441.1" y1="337" x2="621" y2="337"/>
<line class="ar" x1="479.8" y1="299" x2="479.8" y2="319.2"/><path class="ah" d="M479.8 293.4 L476.3 300 L483.3 300Z"/><path class="ah" d="M479.8 324.8 L476.3 318.2 L483.3 318.2Z"/>
<text class="dp" x="493" y="317.2"><tspan font-family="Liberation Serif, serif" font-size="11.6">Δ</tspan><tspan font-style="italic" font-size="12.4">φ</tspan> = 16.2454 mV</text>
<path class="fr" d="M55 658.9 H316.1 V728.1"/>
<path class="fr2" d="M55 658.3 V728.1 H316.7"/>
<line class="tick" x1="53" y1="658.9" x2="55" y2="658.9"/>
<text class="tk" text-anchor="end" x="50.3" y="662.8">−145</text>
<line class="tick" stroke-width="0.5" x1="53.5" y1="670.4" x2="55" y2="670.4"/>
<line class="tick" x1="53" y1="682" x2="55" y2="682"/>
<text class="tk" text-anchor="end" x="50.3" y="685.9">−150</text>
<line class="tick" stroke-width="0.5" x1="53.5" y1="693.5" x2="55" y2="693.5"/>
<line class="tick" x1="53" y1="705" x2="55" y2="705"/>
<text class="tk" text-anchor="end" x="50.3" y="708.9">−155</text>
<line class="tick" stroke-width="0.5" x1="53.5" y1="716.6" x2="55" y2="716.6"/>
<line class="tick" x1="53" y1="728.1" x2="55" y2="728.1"/>
<text class="tk" text-anchor="end" x="50.3" y="732">−160</text>
<line class="tick" x1="55" y1="728.1" x2="55" y2="730.1"/>
<text class="tk" text-anchor="middle" x="55.1" y="741.7">0</text>
<line class="tick" stroke-width="0.6" x1="68.1" y1="728.1" x2="68.1" y2="729.4"/>
<line class="tick" x1="81.1" y1="728.1" x2="81.1" y2="730.1"/>
<text class="tk" text-anchor="middle" x="81.2" y="741.7">100</text>
<line class="tick" stroke-width="0.6" x1="94.2" y1="728.1" x2="94.2" y2="729.4"/>
<line class="tick" x1="107.3" y1="728.1" x2="107.3" y2="730.1"/>
<text class="tk" text-anchor="middle" x="107.4" y="741.7">200</text>
<line class="tick" stroke-width="0.6" x1="120.3" y1="728.1" x2="120.3" y2="729.4"/>
<line class="tick" x1="133.4" y1="728.1" x2="133.4" y2="730.1"/>
<text class="tk" text-anchor="middle" x="133.5" y="741.7">300</text>
<line class="tick" stroke-width="0.6" x1="146.5" y1="728.1" x2="146.5" y2="729.4"/>
<line class="tick" x1="159.5" y1="728.1" x2="159.5" y2="730.1"/>
<text class="tk" text-anchor="middle" x="159.6" y="741.7">400</text>
<line class="tick" stroke-width="0.6" x1="172.6" y1="728.1" x2="172.6" y2="729.4"/>
<line class="tick" x1="185.7" y1="728.1" x2="185.7" y2="730.1"/>
<text class="tk" text-anchor="middle" x="185.8" y="741.7">500</text>
<line class="tick" stroke-width="0.6" x1="198.7" y1="728.1" x2="198.7" y2="729.4"/>
<line class="tick" x1="211.8" y1="728.1" x2="211.8" y2="730.1"/>
<text class="tk" text-anchor="middle" x="211.9" y="741.7">600</text>
<line class="tick" stroke-width="0.6" x1="224.8" y1="728.1" x2="224.8" y2="729.4"/>
<line class="tick" x1="237.9" y1="728.1" x2="237.9" y2="730.1"/>
<text class="tk" text-anchor="middle" x="238" y="741.7">700</text>
<line class="tick" stroke-width="0.6" x1="251" y1="728.1" x2="251" y2="729.4"/>
<line class="tick" x1="264" y1="728.1" x2="264" y2="730.1"/>
<text class="tk" text-anchor="middle" x="264.1" y="741.7">800</text>
<line class="tick" stroke-width="0.6" x1="277.1" y1="728.1" x2="277.1" y2="729.4"/>
<line class="tick" x1="290.2" y1="728.1" x2="290.2" y2="730.1"/>
<text class="tk" text-anchor="middle" x="290.3" y="741.7">900</text>
<line class="tick" stroke-width="0.6" x1="303.2" y1="728.1" x2="303.2" y2="729.4"/>
<text class="ax" text-anchor="middle" x="173.4" y="756.2">Position / nm</text>
<text class="ax" text-anchor="middle" transform="translate(20 694.2) rotate(-90)">Potential / mV</text>
<path class="cv" d="M55.2 715 L57.5 713.8 L59.8 714.4 L62.1 711.2 L64.4 710.8 L66.7 710.5 L69 707.5 L71.3 708.6 L73.6 708.4 L75.9 708.4 L78.2 703.8 L80.5 704.1 L82.8 701.9 L85.1 704.9 L87.4 703.3 L89.7 698.8 L92 703 L94.3 702 L96.6 699.4 L98.9 698.1 L101.2 694.5 L103.5 692.7 L105.8 694.7 L108.1 696.9 L110.4 688.1 L112.7 690.8 L115 688.9 L117.3 690.5 L119.6 689.6 L121.9 691.2 L124.2 688.8 L126.5 688.8 L128.8 687 L131.1 686.8 L133.4 684.6 L135.7 682.5 L138 685.2 L140.3 684.1 L142.6 682.2 L144.9 680.8 L147.2 678 L149.5 676.9 L151.8 676.6 L154.1 674.9 L156.4 678.2 L158.7 676.2 L161 678.5 L163.3 675.7 L165.6 678.4 L167.9 677.3 L170.2 672 L172.5 672.3 L174.8 675.8 L177.1 673.9 L179.4 677.1 L181.7 674.3 L184 672.9 L186.3 676.2 L188.6 677.4 L190.9 675 L193.2 674.4 L195.5 676 L197.8 679.9 L200.1 679.3 L202.4 676.4 L204.7 677.6 L207 677.3 L209.3 677.6 L211.6 682.1 L213.9 679.5 L216.2 682.4 L218.5 682.6 L220.8 682 L223.1 685.7 L225.4 683.2 L227.7 686.7 L230 685.1 L232.3 688 L234.6 688.1 L236.9 689.5 L239.2 694.2 L241.5 694.2 L243.8 692.4 L246.1 695.9 L248.4 692.6 L250.7 693.9 L253 696.6 L255.3 695.6 L257.6 692.9 L259.9 697.9 L262.2 693.9 L264.5 695.2 L266.8 698.9 L269.1 697.5 L271.4 698.1 L273.7 697.4 L276 698.1 L278.3 701.3 L280.6 699.8 L282.9 702.1 L285.2 701.2 L287.5 702.3 L289.8 705.8 L292.1 704 L294.4 704.5 L296.7 705.6 L299 701.5 L301.3 701.2 L303.6 705.5 L305.9 705.2 L308.2 702.7 L310.5 703.3 L312.8 707.2 L314.4 706.5"/>
<line class="bl" x1="108.5" y1="676.6" x2="236.6" y2="676.6"/>
<line class="bl" x1="55" y1="714.5" x2="284.9" y2="714.5"/>
<line class="ar" x1="114.2" y1="686.5" x2="114.2" y2="706.4"/><path class="ah" d="M114.2 680.9 L110.7 687.5 L117.7 687.5Z"/><path class="ah" d="M114.2 712 L110.7 705.4 L117.7 705.4Z"/>
<text class="dp" x="139.8" y="705.3"><tspan font-family="Liberation Serif, serif" font-size="11.6">Δ</tspan><tspan font-style="italic" font-size="12.4">φ</tspan> = 9.1355 mV</text>
<path class="fr" d="M395 660.5 H674 V729.1"/>
<path class="fr2" d="M395 659.9 V729.1 H674.6"/>
<line class="tick" x1="393" y1="660.5" x2="395" y2="660.5"/>
<text class="tk" text-anchor="end" x="390" y="664.2">−160</text>
<line class="tick" stroke-width="0.5" x1="393.5" y1="671.9" x2="395" y2="671.9"/>
<line class="tick" x1="393" y1="683.3" x2="395" y2="683.3"/>
<text class="tk" text-anchor="end" x="390" y="687">−165</text>
<line class="tick" stroke-width="0.5" x1="393.5" y1="694.8" x2="395" y2="694.8"/>
<line class="tick" x1="393" y1="706.2" x2="395" y2="706.2"/>
<text class="tk" text-anchor="end" x="390" y="709.9">−170</text>
<line class="tick" stroke-width="0.5" x1="393.5" y1="717.6" x2="395" y2="717.6"/>
<line class="tick" x1="393" y1="729.1" x2="395" y2="729.1"/>
<text class="tk" text-anchor="end" x="390" y="732.8">−175</text>
<line class="tick" x1="395" y1="729.1" x2="395" y2="731.1"/>
<text class="tks" text-anchor="middle" x="395.2" y="739.9">0</text>
<line class="tick" stroke-width="0.6" x1="404.3" y1="729.1" x2="404.3" y2="730.4"/>
<line class="tick" x1="413.6" y1="729.1" x2="413.6" y2="731.1"/>
<text class="tks" text-anchor="middle" x="413.8" y="739.9">100</text>
<line class="tick" stroke-width="0.6" x1="422.9" y1="729.1" x2="422.9" y2="730.4"/>
<line class="tick" x1="432.2" y1="729.1" x2="432.2" y2="731.1"/>
<text class="tks" text-anchor="middle" x="432.4" y="739.9">200</text>
<line class="tick" stroke-width="0.6" x1="441.5" y1="729.1" x2="441.5" y2="730.4"/>
<line class="tick" x1="450.8" y1="729.1" x2="450.8" y2="731.1"/>
<text class="tks" text-anchor="middle" x="451" y="739.9">300</text>
<line class="tick" stroke-width="0.6" x1="460.1" y1="729.1" x2="460.1" y2="730.4"/>
<line class="tick" x1="469.4" y1="729.1" x2="469.4" y2="731.1"/>
<text class="tks" text-anchor="middle" x="469.6" y="739.9">400</text>
<line class="tick" stroke-width="0.6" x1="478.7" y1="729.1" x2="478.7" y2="730.4"/>
<line class="tick" x1="488" y1="729.1" x2="488" y2="731.1"/>
<text class="tks" text-anchor="middle" x="488.2" y="739.9">500</text>
<line class="tick" stroke-width="0.6" x1="497.3" y1="729.1" x2="497.3" y2="730.4"/>
<line class="tick" x1="506.6" y1="729.1" x2="506.6" y2="731.1"/>
<text class="tks" text-anchor="middle" x="506.8" y="739.9">600</text>
<line class="tick" stroke-width="0.6" x1="515.9" y1="729.1" x2="515.9" y2="730.4"/>
<line class="tick" x1="525.2" y1="729.1" x2="525.2" y2="731.1"/>
<text class="tks" text-anchor="middle" x="525.4" y="739.9">700</text>
<line class="tick" stroke-width="0.6" x1="534.5" y1="729.1" x2="534.5" y2="730.4"/>
<line class="tick" x1="543.8" y1="729.1" x2="543.8" y2="731.1"/>
<text class="tks" text-anchor="middle" x="544" y="739.9">800</text>
<line class="tick" stroke-width="0.6" x1="553.1" y1="729.1" x2="553.1" y2="730.4"/>
<line class="tick" x1="562.4" y1="729.1" x2="562.4" y2="731.1"/>
<text class="tks" text-anchor="middle" x="562.6" y="739.9">900</text>
<line class="tick" stroke-width="0.6" x1="571.7" y1="729.1" x2="571.7" y2="730.4"/>
<line class="tick" x1="581" y1="729.1" x2="581" y2="731.1"/>
<text class="tks" text-anchor="middle" x="581.2" y="739.9">1000</text>
<line class="tick" stroke-width="0.6" x1="590.3" y1="729.1" x2="590.3" y2="730.4"/>
<line class="tick" x1="599.6" y1="729.1" x2="599.6" y2="731.1"/>
<text class="tks" text-anchor="middle" x="599.8" y="739.9">1100</text>
<line class="tick" stroke-width="0.6" x1="608.9" y1="729.1" x2="608.9" y2="730.4"/>
<line class="tick" x1="618.2" y1="729.1" x2="618.2" y2="731.1"/>
<text class="tks" text-anchor="middle" x="618.4" y="739.9">1200</text>
<line class="tick" stroke-width="0.6" x1="627.5" y1="729.1" x2="627.5" y2="730.4"/>
<line class="tick" x1="636.8" y1="729.1" x2="636.8" y2="731.1"/>
<text class="tks" text-anchor="middle" x="637" y="739.9">1300</text>
<line class="tick" stroke-width="0.6" x1="646.1" y1="729.1" x2="646.1" y2="730.4"/>
<line class="tick" x1="655.4" y1="729.1" x2="655.4" y2="731.1"/>
<text class="tks" text-anchor="middle" x="655.6" y="739.9">1400</text>
<line class="tick" stroke-width="0.6" x1="664.7" y1="729.1" x2="664.7" y2="730.4"/>
<line class="tick" x1="674" y1="729.1" x2="674" y2="731.1"/>
<text class="tks" text-anchor="middle" x="674.2" y="739.9">1500</text>
<text class="ax" text-anchor="middle" x="543.5" y="753.7">Position / nm</text>
<text class="ax" text-anchor="middle" transform="translate(360 694.2) rotate(-90)">Potential / mV</text>
<path class="cv" d="M394.5 722.4 L396.7 723.1 L398.9 723.3 L401.1 719.2 L403.3 721.1 L405.5 719.6 L407.7 719.9 L409.9 718.3 L412.1 719 L414.3 720.6 L416.5 719.2 L418.7 719.9 L420.9 717.2 L423.1 717 L425.3 719.7 L427.5 717.8 L429.7 717.9 L431.9 718.6 L434.1 716.2 L436.3 714.2 L438.5 717.3 L440.7 715.6 L442.9 715.3 L445.1 714.4 L447.3 715.5 L449.5 712 L451.7 713.4 L453.9 711 L456.1 711.3 L458.3 711 L460.5 708.5 L462.7 706.7 L464.9 708 L467.1 708.6 L469.3 707.4 L471.5 706.1 L473.7 706.2 L475.9 702.2 L478.1 700 L480.3 698.3 L482.5 699.8 L484.7 695.7 L486.9 694.3 L489.1 693.5 L491.3 692.4 L493.5 692.4 L495.7 692.7 L497.9 692.7 L500.1 689.2 L502.3 688.5 L504.5 687.1 L506.7 686.5 L508.9 688.2 L511.1 686.4 L513.3 684.3 L515.5 682.8 L517.7 685.3 L519.9 684.2 L522.1 684.2 L524.3 680.6 L526.5 682.1 L528.7 684.5 L530.9 683.4 L533.1 685 L535.3 680.8 L537.5 684.6 L539.7 680.4 L541.9 682.7 L544.1 681.3 L546.3 686.4 L548.5 687 L550.7 689.6 L552.9 689.5 L555.1 691 L557.3 689.8 L559.5 693.8 L561.7 694.4 L563.9 693.6 L566.1 697.8 L568.3 695.9 L570.5 695.9 L572.7 696.3 L574.9 699.2 L577.1 698.8 L579.3 703.4 L581.5 704.5 L583.7 701.9 L585.9 702.5 L588.1 705.3 L590.3 703.7 L592.5 706.2 L594.7 709 L596.9 707.7 L599.1 709.7 L601.3 713.2 L603.5 711.9 L605.7 711.2 L607.9 713.8 L610.1 713.2 L612.3 713.9 L614.5 713.1 L616.7 712 L618.9 713.5 L621.1 713.9 L623.3 712.8 L625.5 710.5 L627.7 710.7 L629.9 711.2 L632.1 712.9 L634.3 711.8 L636.5 712.4 L638.7 714.5 L640.9 711.6 L643.1 714.6 L645.3 712.9 L647.5 713.9 L649.7 715.1 L651.9 711.8 L654.1 714.9 L656.3 710.2 L658.5 712.3 L660.7 712.4 L662.9 711 L665.1 712.8 L667.3 712.6 L669.5 712.8 L671.7 714.4 L673.9 711.1 L674.4 713.6"/>
<line class="bl" x1="454.2" y1="679.1" x2="592.8" y2="679.1"/>
<line class="bl" x1="405.3" y1="724.8" x2="652.8" y2="724.8"/>
<line class="ar" x1="469.8" y1="692" x2="469.8" y2="712.2"/><path class="ah" d="M469.8 686.4 L466.3 693 L473.3 693Z"/><path class="ah" d="M469.8 717.8 L466.3 711.2 L473.3 711.2Z"/>
<text class="dp" x="482.3" y="712.8"><tspan font-family="Liberation Serif, serif" font-size="11.6">Δ</tspan><tspan font-style="italic" font-size="12.4">φ</tspan> = 9.986 mV</text>
</svg></body></html>
